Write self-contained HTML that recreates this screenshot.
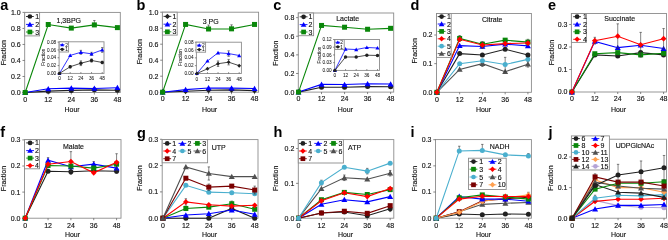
<!DOCTYPE html>
<html><head><meta charset="utf-8"><style>
html,body{margin:0;padding:0;background:#fff;width:668px;height:237px;overflow:hidden}
svg{display:block;font-family:"Liberation Sans", sans-serif;will-change:transform}
</style></head><body>
<svg width="668" height="237" viewBox="0 0 668 237">
<rect width="668" height="237" fill="#fff"/>
<rect x="24.70" y="12.40" width="95.60" height="80.10" fill="none" stroke="#8c8c8c" stroke-width="0.9"/>
<line x1="22.50" y1="92.50" x2="24.70" y2="92.50" stroke="#555" stroke-width="0.7"/>
<text x="20.70" y="94.90" font-size="7" text-anchor="end" fill="#111" stroke="#111" stroke-width="0.14" font-weight="normal" >0.0</text>
<line x1="22.50" y1="76.48" x2="24.70" y2="76.48" stroke="#555" stroke-width="0.7"/>
<text x="20.70" y="78.88" font-size="7" text-anchor="end" fill="#111" stroke="#111" stroke-width="0.14" font-weight="normal" >0.2</text>
<line x1="22.50" y1="60.46" x2="24.70" y2="60.46" stroke="#555" stroke-width="0.7"/>
<text x="20.70" y="62.86" font-size="7" text-anchor="end" fill="#111" stroke="#111" stroke-width="0.14" font-weight="normal" >0.4</text>
<line x1="22.50" y1="44.44" x2="24.70" y2="44.44" stroke="#555" stroke-width="0.7"/>
<text x="20.70" y="46.84" font-size="7" text-anchor="end" fill="#111" stroke="#111" stroke-width="0.14" font-weight="normal" >0.6</text>
<line x1="22.50" y1="28.42" x2="24.70" y2="28.42" stroke="#555" stroke-width="0.7"/>
<text x="20.70" y="30.82" font-size="7" text-anchor="end" fill="#111" stroke="#111" stroke-width="0.14" font-weight="normal" >0.8</text>
<line x1="22.50" y1="12.40" x2="24.70" y2="12.40" stroke="#555" stroke-width="0.7"/>
<text x="20.70" y="14.80" font-size="7" text-anchor="end" fill="#111" stroke="#111" stroke-width="0.14" font-weight="normal" >1.0</text>
<text x="25.20" y="101.70" font-size="7" text-anchor="middle" fill="#111" stroke="#111" stroke-width="0.14" font-weight="normal" >0</text>
<line x1="48.25" y1="92.50" x2="48.25" y2="94.50" stroke="#555" stroke-width="0.7"/>
<text x="48.25" y="101.70" font-size="7" text-anchor="middle" fill="#111" stroke="#111" stroke-width="0.14" font-weight="normal" >12</text>
<line x1="71.30" y1="92.50" x2="71.30" y2="94.50" stroke="#555" stroke-width="0.7"/>
<text x="71.30" y="101.70" font-size="7" text-anchor="middle" fill="#111" stroke="#111" stroke-width="0.14" font-weight="normal" >24</text>
<line x1="94.36" y1="92.50" x2="94.36" y2="94.50" stroke="#555" stroke-width="0.7"/>
<text x="94.36" y="101.70" font-size="7" text-anchor="middle" fill="#111" stroke="#111" stroke-width="0.14" font-weight="normal" >36</text>
<line x1="117.41" y1="92.50" x2="117.41" y2="94.50" stroke="#555" stroke-width="0.7"/>
<text x="117.41" y="101.70" font-size="7" text-anchor="middle" fill="#111" stroke="#111" stroke-width="0.14" font-weight="normal" >48</text>
<text x="72.10" y="111.90" font-size="7" text-anchor="middle" fill="#111" stroke="#111" stroke-width="0.14" font-weight="normal" >Hour</text>
<text x="0" y="0" font-size="7" text-anchor="middle" fill="#111" stroke="#111" stroke-width="0.140" transform="translate(5.50,52.70) rotate(-90)">Fraction</text>
<path d="M25.20 92.50L48.25 91.14L71.30 90.42L94.36 89.86L117.41 90.26" fill="none" stroke="#202020" stroke-width="1.1"/>
<circle cx="25.20" cy="92.50" r="2.50" fill="#202020"/>
<circle cx="48.25" cy="91.14" r="2.50" fill="#202020"/>
<circle cx="71.30" cy="90.42" r="2.50" fill="#202020"/>
<circle cx="94.36" cy="89.86" r="2.50" fill="#202020"/>
<circle cx="117.41" cy="90.26" r="2.50" fill="#202020"/>
<path d="M25.20 92.50L48.25 88.82L71.30 88.17L94.36 88.50L117.41 87.69" fill="none" stroke="#0000ff" stroke-width="1.1"/>
<path d="M25.20 89.62L28.20 94.88L22.20 94.88Z" fill="#0000ff"/>
<path d="M48.25 85.94L51.25 91.19L45.25 91.19Z" fill="#0000ff"/>
<path d="M71.30 85.30L74.30 90.55L68.30 90.55Z" fill="#0000ff"/>
<path d="M94.36 85.62L97.36 90.87L91.36 90.87Z" fill="#0000ff"/>
<path d="M117.41 84.82L120.41 90.07L114.41 90.07Z" fill="#0000ff"/>
<line x1="94.36" y1="24.90" x2="94.36" y2="20.49" stroke="#333" stroke-width="0.6"/>
<line x1="93.16" y1="20.49" x2="95.56" y2="20.49" stroke="#333" stroke-width="0.6"/>
<path d="M25.20 92.50L48.25 24.50L71.30 28.10L94.36 24.90L117.41 27.62" fill="none" stroke="#0a870a" stroke-width="1.1"/>
<rect x="22.70" y="90.00" width="5.00" height="5.00" fill="#0a870a"/>
<rect x="45.75" y="22.00" width="5.00" height="5.00" fill="#0a870a"/>
<rect x="68.80" y="25.60" width="5.00" height="5.00" fill="#0a870a"/>
<rect x="91.86" y="22.40" width="5.00" height="5.00" fill="#0a870a"/>
<rect x="114.91" y="25.12" width="5.00" height="5.00" fill="#0a870a"/>
<rect x="24.70" y="12.40" width="14.90" height="23.50" fill="#fff" stroke="#8c8c8c" stroke-width="0.9"/>
<line x1="26.00" y1="16.50" x2="33.80" y2="16.50" stroke="#202020" stroke-width="0.9"/>
<circle cx="29.90" cy="16.50" r="2.35" fill="#202020"/>
<text x="35.20" y="19.00" font-size="7" text-anchor="start" fill="#111" stroke="#111" stroke-width="0.14" font-weight="normal" >1</text>
<line x1="26.00" y1="24.40" x2="33.80" y2="24.40" stroke="#0000ff" stroke-width="0.9"/>
<path d="M29.90 21.70L32.72 26.63L27.08 26.63Z" fill="#0000ff"/>
<text x="35.20" y="26.90" font-size="7" text-anchor="start" fill="#111" stroke="#111" stroke-width="0.14" font-weight="normal" >2</text>
<line x1="26.00" y1="32.00" x2="33.80" y2="32.00" stroke="#0a870a" stroke-width="0.9"/>
<rect x="27.55" y="29.65" width="4.70" height="4.70" fill="#0a870a"/>
<text x="35.20" y="34.50" font-size="7" text-anchor="start" fill="#111" stroke="#111" stroke-width="0.14" font-weight="normal" >3</text>
<text x="56.50" y="22.90" font-size="7" text-anchor="start" fill="#111" stroke="#111" stroke-width="0.14" font-weight="normal" >1,3BPG</text>
<text x="0.20" y="10.00" font-size="14.5" text-anchor="start" fill="#000" stroke="#000" stroke-width="0" font-weight="bold" >a</text>
<rect x="59.10" y="41.80" width="44.90" height="31.60" fill="none" stroke="#8c8c8c" stroke-width="0.9"/>
<line x1="57.60" y1="73.40" x2="59.10" y2="73.40" stroke="#555" stroke-width="0.7"/>
<text x="56.20" y="75.01" font-size="4.7" text-anchor="end" fill="#111" stroke="#111" stroke-width="0.03266666666666668" font-weight="normal" >0.00</text>
<line x1="57.60" y1="65.58" x2="59.10" y2="65.58" stroke="#555" stroke-width="0.7"/>
<text x="56.20" y="67.19" font-size="4.7" text-anchor="end" fill="#111" stroke="#111" stroke-width="0.03266666666666668" font-weight="normal" >0.02</text>
<line x1="57.60" y1="57.76" x2="59.10" y2="57.76" stroke="#555" stroke-width="0.7"/>
<text x="56.20" y="59.37" font-size="4.7" text-anchor="end" fill="#111" stroke="#111" stroke-width="0.03266666666666668" font-weight="normal" >0.04</text>
<line x1="57.60" y1="49.94" x2="59.10" y2="49.94" stroke="#555" stroke-width="0.7"/>
<text x="56.20" y="51.55" font-size="4.7" text-anchor="end" fill="#111" stroke="#111" stroke-width="0.03266666666666668" font-weight="normal" >0.06</text>
<line x1="57.60" y1="42.12" x2="59.10" y2="42.12" stroke="#555" stroke-width="0.7"/>
<text x="56.20" y="43.73" font-size="4.7" text-anchor="end" fill="#111" stroke="#111" stroke-width="0.03266666666666668" font-weight="normal" >0.08</text>
<text x="59.50" y="80.40" font-size="4.7" text-anchor="middle" fill="#111" stroke="#111" stroke-width="0.03266666666666668" font-weight="normal" >0</text>
<line x1="70.18" y1="73.40" x2="70.18" y2="72.10" stroke="#555" stroke-width="0.7"/>
<text x="70.18" y="80.40" font-size="4.7" text-anchor="middle" fill="#111" stroke="#111" stroke-width="0.03266666666666668" font-weight="normal" >12</text>
<line x1="80.86" y1="73.40" x2="80.86" y2="72.10" stroke="#555" stroke-width="0.7"/>
<text x="80.86" y="80.40" font-size="4.7" text-anchor="middle" fill="#111" stroke="#111" stroke-width="0.03266666666666668" font-weight="normal" >24</text>
<line x1="91.54" y1="73.40" x2="91.54" y2="72.10" stroke="#555" stroke-width="0.7"/>
<text x="91.54" y="80.40" font-size="4.7" text-anchor="middle" fill="#111" stroke="#111" stroke-width="0.03266666666666668" font-weight="normal" >36</text>
<line x1="102.22" y1="73.40" x2="102.22" y2="72.10" stroke="#555" stroke-width="0.7"/>
<text x="102.22" y="80.40" font-size="4.7" text-anchor="middle" fill="#111" stroke="#111" stroke-width="0.03266666666666668" font-weight="normal" >48</text>
<text x="0" y="0" font-size="4.7" text-anchor="middle" fill="#111" stroke="#111" stroke-width="0.033" transform="translate(45.00,57.20) rotate(-90)">Fraction</text>
<line x1="80.86" y1="54.24" x2="80.86" y2="50.33" stroke="#333" stroke-width="0.6"/>
<line x1="79.66" y1="50.33" x2="82.06" y2="50.33" stroke="#333" stroke-width="0.6"/>
<line x1="79.66" y1="54.24" x2="82.06" y2="54.24" stroke="#333" stroke-width="0.6"/>
<line x1="91.54" y1="55.41" x2="91.54" y2="52.29" stroke="#333" stroke-width="0.6"/>
<line x1="90.34" y1="52.29" x2="92.74" y2="52.29" stroke="#333" stroke-width="0.6"/>
<line x1="90.34" y1="55.41" x2="92.74" y2="55.41" stroke="#333" stroke-width="0.6"/>
<line x1="102.22" y1="52.29" x2="102.22" y2="47.59" stroke="#333" stroke-width="0.6"/>
<line x1="101.02" y1="47.59" x2="103.42" y2="47.59" stroke="#333" stroke-width="0.6"/>
<line x1="101.02" y1="52.29" x2="103.42" y2="52.29" stroke="#333" stroke-width="0.6"/>
<path d="M59.50 73.40L70.18 55.41L80.86 52.29L91.54 53.85L102.22 49.94" fill="none" stroke="#0000ff" stroke-width="0.8"/>
<path d="M59.50 71.45L61.54 75.02L57.46 75.02Z" fill="#0000ff"/>
<path d="M70.18 53.46L72.22 57.03L68.14 57.03Z" fill="#0000ff"/>
<path d="M80.86 50.33L82.90 53.90L78.82 53.90Z" fill="#0000ff"/>
<path d="M91.54 51.90L93.58 55.47L89.50 55.47Z" fill="#0000ff"/>
<path d="M102.22 47.99L104.26 51.56L100.18 51.56Z" fill="#0000ff"/>
<line x1="70.18" y1="67.93" x2="70.18" y2="65.58" stroke="#333" stroke-width="0.6"/>
<line x1="68.98" y1="65.58" x2="71.38" y2="65.58" stroke="#333" stroke-width="0.6"/>
<line x1="68.98" y1="67.93" x2="71.38" y2="67.93" stroke="#333" stroke-width="0.6"/>
<line x1="80.86" y1="65.58" x2="80.86" y2="60.89" stroke="#333" stroke-width="0.6"/>
<line x1="79.66" y1="60.89" x2="82.06" y2="60.89" stroke="#333" stroke-width="0.6"/>
<line x1="79.66" y1="65.58" x2="82.06" y2="65.58" stroke="#333" stroke-width="0.6"/>
<line x1="91.54" y1="62.06" x2="91.54" y2="58.93" stroke="#333" stroke-width="0.6"/>
<line x1="90.34" y1="58.93" x2="92.74" y2="58.93" stroke="#333" stroke-width="0.6"/>
<line x1="90.34" y1="62.06" x2="92.74" y2="62.06" stroke="#333" stroke-width="0.6"/>
<line x1="102.22" y1="63.63" x2="102.22" y2="61.28" stroke="#333" stroke-width="0.6"/>
<line x1="101.02" y1="61.28" x2="103.42" y2="61.28" stroke="#333" stroke-width="0.6"/>
<line x1="101.02" y1="63.63" x2="103.42" y2="63.63" stroke="#333" stroke-width="0.6"/>
<path d="M59.50 73.40L70.18 66.75L80.86 63.23L91.54 60.50L102.22 62.45" fill="none" stroke="#202020" stroke-width="0.8"/>
<circle cx="59.50" cy="73.40" r="1.70" fill="#202020"/>
<circle cx="70.18" cy="66.75" r="1.70" fill="#202020"/>
<circle cx="80.86" cy="63.23" r="1.70" fill="#202020"/>
<circle cx="91.54" cy="60.50" r="1.70" fill="#202020"/>
<circle cx="102.22" cy="62.45" r="1.70" fill="#202020"/>
<rect x="59.20" y="41.80" width="9.40" height="10.20" fill="#fff" stroke="#8c8c8c" stroke-width="0.9"/>
<line x1="59.90" y1="44.80" x2="64.50" y2="44.80" stroke="#0000ff" stroke-width="0.9"/>
<path d="M62.20 42.96L64.12 46.32L60.28 46.32Z" fill="#0000ff"/>
<text x="65.20" y="46.55" font-size="4.9" text-anchor="start" fill="#111" stroke="#111" stroke-width="0.042000000000000016" font-weight="normal" >2</text>
<line x1="59.90" y1="49.30" x2="64.50" y2="49.30" stroke="#202020" stroke-width="0.9"/>
<circle cx="62.20" cy="49.30" r="1.60" fill="#202020"/>
<text x="65.20" y="51.05" font-size="4.9" text-anchor="start" fill="#111" stroke="#111" stroke-width="0.042000000000000016" font-weight="normal" >1</text>
<rect x="162.40" y="12.20" width="96.20" height="80.00" fill="none" stroke="#8c8c8c" stroke-width="0.9"/>
<line x1="160.20" y1="92.20" x2="162.40" y2="92.20" stroke="#555" stroke-width="0.7"/>
<text x="158.40" y="94.60" font-size="7" text-anchor="end" fill="#111" stroke="#111" stroke-width="0.14" font-weight="normal" >0.0</text>
<line x1="160.20" y1="76.20" x2="162.40" y2="76.20" stroke="#555" stroke-width="0.7"/>
<text x="158.40" y="78.60" font-size="7" text-anchor="end" fill="#111" stroke="#111" stroke-width="0.14" font-weight="normal" >0.2</text>
<line x1="160.20" y1="60.20" x2="162.40" y2="60.20" stroke="#555" stroke-width="0.7"/>
<text x="158.40" y="62.60" font-size="7" text-anchor="end" fill="#111" stroke="#111" stroke-width="0.14" font-weight="normal" >0.4</text>
<line x1="160.20" y1="44.20" x2="162.40" y2="44.20" stroke="#555" stroke-width="0.7"/>
<text x="158.40" y="46.60" font-size="7" text-anchor="end" fill="#111" stroke="#111" stroke-width="0.14" font-weight="normal" >0.6</text>
<line x1="160.20" y1="28.20" x2="162.40" y2="28.20" stroke="#555" stroke-width="0.7"/>
<text x="158.40" y="30.60" font-size="7" text-anchor="end" fill="#111" stroke="#111" stroke-width="0.14" font-weight="normal" >0.8</text>
<line x1="160.20" y1="12.20" x2="162.40" y2="12.20" stroke="#555" stroke-width="0.7"/>
<text x="158.40" y="14.60" font-size="7" text-anchor="end" fill="#111" stroke="#111" stroke-width="0.14" font-weight="normal" >1.0</text>
<text x="162.60" y="101.40" font-size="7" text-anchor="middle" fill="#111" stroke="#111" stroke-width="0.14" font-weight="normal" >0</text>
<line x1="185.58" y1="92.20" x2="185.58" y2="94.20" stroke="#555" stroke-width="0.7"/>
<text x="185.58" y="101.40" font-size="7" text-anchor="middle" fill="#111" stroke="#111" stroke-width="0.14" font-weight="normal" >12</text>
<line x1="208.56" y1="92.20" x2="208.56" y2="94.20" stroke="#555" stroke-width="0.7"/>
<text x="208.56" y="101.40" font-size="7" text-anchor="middle" fill="#111" stroke="#111" stroke-width="0.14" font-weight="normal" >24</text>
<line x1="231.54" y1="92.20" x2="231.54" y2="94.20" stroke="#555" stroke-width="0.7"/>
<text x="231.54" y="101.40" font-size="7" text-anchor="middle" fill="#111" stroke="#111" stroke-width="0.14" font-weight="normal" >36</text>
<line x1="254.52" y1="92.20" x2="254.52" y2="94.20" stroke="#555" stroke-width="0.7"/>
<text x="254.52" y="101.40" font-size="7" text-anchor="middle" fill="#111" stroke="#111" stroke-width="0.14" font-weight="normal" >48</text>
<text x="209.60" y="111.90" font-size="7" text-anchor="middle" fill="#111" stroke="#111" stroke-width="0.14" font-weight="normal" >Hour</text>
<text x="0" y="0" font-size="7" text-anchor="middle" fill="#111" stroke="#111" stroke-width="0.140" transform="translate(142.30,51.70) rotate(-90)">Fraction</text>
<path d="M162.60 92.20L185.58 91.24L208.56 90.20L231.54 89.88L254.52 90.60" fill="none" stroke="#202020" stroke-width="1.1"/>
<path d="M162.60 89.33L165.47 92.20L162.60 95.08L159.72 92.20Z" fill="#202020"/>
<path d="M185.58 88.37L188.45 91.24L185.58 94.12L182.70 91.24Z" fill="#202020"/>
<path d="M208.56 87.33L211.44 90.20L208.56 93.08L205.69 90.20Z" fill="#202020"/>
<path d="M231.54 87.00L234.41 89.88L231.54 92.75L228.66 89.88Z" fill="#202020"/>
<path d="M254.52 87.73L257.39 90.60L254.52 93.48L251.64 90.60Z" fill="#202020"/>
<path d="M162.60 92.20L185.58 89.64L208.56 87.96L231.54 88.12L254.52 88.52" fill="none" stroke="#0000ff" stroke-width="1.1"/>
<path d="M162.60 89.33L165.60 94.58L159.60 94.58Z" fill="#0000ff"/>
<path d="M185.58 86.77L188.58 92.02L182.58 92.02Z" fill="#0000ff"/>
<path d="M208.56 85.09L211.56 90.34L205.56 90.34Z" fill="#0000ff"/>
<path d="M231.54 85.25L234.54 90.50L228.54 90.50Z" fill="#0000ff"/>
<path d="M254.52 85.65L257.52 90.90L251.52 90.90Z" fill="#0000ff"/>
<line x1="208.56" y1="29.00" x2="208.56" y2="25.00" stroke="#333" stroke-width="0.6"/>
<line x1="207.36" y1="25.00" x2="209.76" y2="25.00" stroke="#333" stroke-width="0.6"/>
<line x1="231.54" y1="28.84" x2="231.54" y2="24.84" stroke="#333" stroke-width="0.6"/>
<line x1="230.34" y1="24.84" x2="232.74" y2="24.84" stroke="#333" stroke-width="0.6"/>
<path d="M162.60 92.20L185.58 24.44L208.56 29.00L231.54 28.84L254.52 24.44" fill="none" stroke="#0a870a" stroke-width="1.1"/>
<rect x="160.10" y="89.70" width="5.00" height="5.00" fill="#0a870a"/>
<rect x="183.08" y="21.94" width="5.00" height="5.00" fill="#0a870a"/>
<rect x="206.06" y="26.50" width="5.00" height="5.00" fill="#0a870a"/>
<rect x="229.04" y="26.34" width="5.00" height="5.00" fill="#0a870a"/>
<rect x="252.02" y="21.94" width="5.00" height="5.00" fill="#0a870a"/>
<rect x="162.40" y="12.20" width="14.80" height="22.90" fill="#fff" stroke="#8c8c8c" stroke-width="0.9"/>
<line x1="163.50" y1="16.40" x2="171.30" y2="16.40" stroke="#202020" stroke-width="0.9"/>
<path d="M167.40 13.70L170.10 16.40L167.40 19.10L164.70 16.40Z" fill="#202020"/>
<text x="172.60" y="18.90" font-size="7" text-anchor="start" fill="#111" stroke="#111" stroke-width="0.14" font-weight="normal" >1</text>
<line x1="163.50" y1="24.20" x2="171.30" y2="24.20" stroke="#0000ff" stroke-width="0.9"/>
<path d="M167.40 21.50L170.22 26.43L164.58 26.43Z" fill="#0000ff"/>
<text x="172.60" y="26.70" font-size="7" text-anchor="start" fill="#111" stroke="#111" stroke-width="0.14" font-weight="normal" >2</text>
<line x1="163.50" y1="31.80" x2="171.30" y2="31.80" stroke="#0a870a" stroke-width="0.9"/>
<rect x="165.05" y="29.45" width="4.70" height="4.70" fill="#0a870a"/>
<text x="172.60" y="34.30" font-size="7" text-anchor="start" fill="#111" stroke="#111" stroke-width="0.14" font-weight="normal" >3</text>
<text x="202.70" y="23.50" font-size="7" text-anchor="start" fill="#111" stroke="#111" stroke-width="0.14" font-weight="normal" >3 PG</text>
<text x="136.50" y="10.00" font-size="14.5" text-anchor="start" fill="#000" stroke="#000" stroke-width="0" font-weight="bold" >b</text>
<rect x="196.40" y="42.20" width="45.00" height="31.30" fill="none" stroke="#8c8c8c" stroke-width="0.9"/>
<line x1="194.90" y1="73.50" x2="196.40" y2="73.50" stroke="#555" stroke-width="0.7"/>
<text x="193.50" y="75.11" font-size="4.7" text-anchor="end" fill="#111" stroke="#111" stroke-width="0.03266666666666668" font-weight="normal" >0.00</text>
<line x1="194.90" y1="65.68" x2="196.40" y2="65.68" stroke="#555" stroke-width="0.7"/>
<text x="193.50" y="67.29" font-size="4.7" text-anchor="end" fill="#111" stroke="#111" stroke-width="0.03266666666666668" font-weight="normal" >0.02</text>
<line x1="194.90" y1="57.86" x2="196.40" y2="57.86" stroke="#555" stroke-width="0.7"/>
<text x="193.50" y="59.47" font-size="4.7" text-anchor="end" fill="#111" stroke="#111" stroke-width="0.03266666666666668" font-weight="normal" >0.04</text>
<line x1="194.90" y1="50.04" x2="196.40" y2="50.04" stroke="#555" stroke-width="0.7"/>
<text x="193.50" y="51.65" font-size="4.7" text-anchor="end" fill="#111" stroke="#111" stroke-width="0.03266666666666668" font-weight="normal" >0.06</text>
<line x1="194.90" y1="42.22" x2="196.40" y2="42.22" stroke="#555" stroke-width="0.7"/>
<text x="193.50" y="43.83" font-size="4.7" text-anchor="end" fill="#111" stroke="#111" stroke-width="0.03266666666666668" font-weight="normal" >0.08</text>
<text x="196.90" y="80.50" font-size="4.7" text-anchor="middle" fill="#111" stroke="#111" stroke-width="0.03266666666666668" font-weight="normal" >0</text>
<line x1="207.47" y1="73.50" x2="207.47" y2="72.20" stroke="#555" stroke-width="0.7"/>
<text x="207.47" y="80.50" font-size="4.7" text-anchor="middle" fill="#111" stroke="#111" stroke-width="0.03266666666666668" font-weight="normal" >12</text>
<line x1="218.04" y1="73.50" x2="218.04" y2="72.20" stroke="#555" stroke-width="0.7"/>
<text x="218.04" y="80.50" font-size="4.7" text-anchor="middle" fill="#111" stroke="#111" stroke-width="0.03266666666666668" font-weight="normal" >24</text>
<line x1="228.62" y1="73.50" x2="228.62" y2="72.20" stroke="#555" stroke-width="0.7"/>
<text x="228.62" y="80.50" font-size="4.7" text-anchor="middle" fill="#111" stroke="#111" stroke-width="0.03266666666666668" font-weight="normal" >36</text>
<line x1="239.19" y1="73.50" x2="239.19" y2="72.20" stroke="#555" stroke-width="0.7"/>
<text x="239.19" y="80.50" font-size="4.7" text-anchor="middle" fill="#111" stroke="#111" stroke-width="0.03266666666666668" font-weight="normal" >48</text>
<text x="0" y="0" font-size="4.7" text-anchor="middle" fill="#111" stroke="#111" stroke-width="0.033" transform="translate(182.00,57.50) rotate(-90)">Fraction</text>
<line x1="228.62" y1="56.30" x2="228.62" y2="50.82" stroke="#333" stroke-width="0.6"/>
<line x1="227.42" y1="50.82" x2="229.82" y2="50.82" stroke="#333" stroke-width="0.6"/>
<line x1="227.42" y1="56.30" x2="229.82" y2="56.30" stroke="#333" stroke-width="0.6"/>
<path d="M196.90 73.50L207.47 60.99L218.04 52.78L228.62 53.56L239.19 55.51" fill="none" stroke="#0000ff" stroke-width="0.8"/>
<path d="M196.90 71.55L198.94 75.11L194.86 75.11Z" fill="#0000ff"/>
<path d="M207.47 59.03L209.51 62.60L205.43 62.60Z" fill="#0000ff"/>
<path d="M218.04 50.82L220.08 54.39L216.00 54.39Z" fill="#0000ff"/>
<path d="M228.62 51.60L230.66 55.17L226.58 55.17Z" fill="#0000ff"/>
<path d="M239.19 53.56L241.23 57.13L237.15 57.13Z" fill="#0000ff"/>
<line x1="218.04" y1="66.46" x2="218.04" y2="60.99" stroke="#333" stroke-width="0.6"/>
<line x1="216.84" y1="60.99" x2="219.24" y2="60.99" stroke="#333" stroke-width="0.6"/>
<line x1="216.84" y1="66.46" x2="219.24" y2="66.46" stroke="#333" stroke-width="0.6"/>
<line x1="228.62" y1="64.90" x2="228.62" y2="59.42" stroke="#333" stroke-width="0.6"/>
<line x1="227.42" y1="59.42" x2="229.82" y2="59.42" stroke="#333" stroke-width="0.6"/>
<line x1="227.42" y1="64.90" x2="229.82" y2="64.90" stroke="#333" stroke-width="0.6"/>
<path d="M196.90 73.50L207.47 68.81L218.04 63.73L228.62 62.16L239.19 65.68" fill="none" stroke="#202020" stroke-width="0.8"/>
<path d="M196.90 71.55L198.86 73.50L196.90 75.45L194.94 73.50Z" fill="#202020"/>
<path d="M207.47 66.85L209.43 68.81L207.47 70.76L205.52 68.81Z" fill="#202020"/>
<path d="M218.04 61.77L220.00 63.73L218.04 65.68L216.09 63.73Z" fill="#202020"/>
<path d="M228.62 60.21L230.57 62.16L228.62 64.12L226.66 62.16Z" fill="#202020"/>
<path d="M239.19 63.73L241.14 65.68L239.19 67.64L237.23 65.68Z" fill="#202020"/>
<rect x="196.00" y="42.20" width="9.60" height="10.00" fill="#fff" stroke="#8c8c8c" stroke-width="0.9"/>
<line x1="196.90" y1="45.20" x2="201.50" y2="45.20" stroke="#0000ff" stroke-width="0.9"/>
<path d="M199.20 43.36L201.12 46.72L197.28 46.72Z" fill="#0000ff"/>
<text x="202.00" y="46.95" font-size="4.9" text-anchor="start" fill="#111" stroke="#111" stroke-width="0.042000000000000016" font-weight="normal" >2</text>
<line x1="196.90" y1="49.60" x2="201.50" y2="49.60" stroke="#202020" stroke-width="0.9"/>
<path d="M199.20 47.76L201.04 49.60L199.20 51.44L197.36 49.60Z" fill="#202020"/>
<text x="202.00" y="51.35" font-size="4.9" text-anchor="start" fill="#111" stroke="#111" stroke-width="0.042000000000000016" font-weight="normal" >1</text>
<rect x="298.30" y="13.00" width="95.40" height="79.10" fill="none" stroke="#8c8c8c" stroke-width="0.9"/>
<line x1="296.10" y1="92.10" x2="298.30" y2="92.10" stroke="#555" stroke-width="0.7"/>
<text x="294.30" y="94.50" font-size="7" text-anchor="end" fill="#111" stroke="#111" stroke-width="0.14" font-weight="normal" >0.0</text>
<line x1="296.10" y1="73.48" x2="298.30" y2="73.48" stroke="#555" stroke-width="0.7"/>
<text x="294.30" y="75.88" font-size="7" text-anchor="end" fill="#111" stroke="#111" stroke-width="0.14" font-weight="normal" >0.2</text>
<line x1="296.10" y1="54.86" x2="298.30" y2="54.86" stroke="#555" stroke-width="0.7"/>
<text x="294.30" y="57.26" font-size="7" text-anchor="end" fill="#111" stroke="#111" stroke-width="0.14" font-weight="normal" >0.4</text>
<line x1="296.10" y1="36.24" x2="298.30" y2="36.24" stroke="#555" stroke-width="0.7"/>
<text x="294.30" y="38.64" font-size="7" text-anchor="end" fill="#111" stroke="#111" stroke-width="0.14" font-weight="normal" >0.6</text>
<line x1="296.10" y1="17.62" x2="298.30" y2="17.62" stroke="#555" stroke-width="0.7"/>
<text x="294.30" y="20.02" font-size="7" text-anchor="end" fill="#111" stroke="#111" stroke-width="0.14" font-weight="normal" >0.8</text>
<text x="298.50" y="101.30" font-size="7" text-anchor="middle" fill="#111" stroke="#111" stroke-width="0.14" font-weight="normal" >0</text>
<line x1="321.53" y1="92.10" x2="321.53" y2="94.10" stroke="#555" stroke-width="0.7"/>
<text x="321.53" y="101.30" font-size="7" text-anchor="middle" fill="#111" stroke="#111" stroke-width="0.14" font-weight="normal" >12</text>
<line x1="344.56" y1="92.10" x2="344.56" y2="94.10" stroke="#555" stroke-width="0.7"/>
<text x="344.56" y="101.30" font-size="7" text-anchor="middle" fill="#111" stroke="#111" stroke-width="0.14" font-weight="normal" >24</text>
<line x1="367.58" y1="92.10" x2="367.58" y2="94.10" stroke="#555" stroke-width="0.7"/>
<text x="367.58" y="101.30" font-size="7" text-anchor="middle" fill="#111" stroke="#111" stroke-width="0.14" font-weight="normal" >36</text>
<line x1="390.61" y1="92.10" x2="390.61" y2="94.10" stroke="#555" stroke-width="0.7"/>
<text x="390.61" y="101.30" font-size="7" text-anchor="middle" fill="#111" stroke="#111" stroke-width="0.14" font-weight="normal" >48</text>
<text x="345.40" y="111.90" font-size="7" text-anchor="middle" fill="#111" stroke="#111" stroke-width="0.14" font-weight="normal" >Hour</text>
<text x="0" y="0" font-size="7" text-anchor="middle" fill="#111" stroke="#111" stroke-width="0.140" transform="translate(277.80,53.20) rotate(-90)">Fraction</text>
<path d="M298.50 92.10L321.53 87.26L344.56 87.26L367.58 86.61L390.61 86.70" fill="none" stroke="#202020" stroke-width="1.1"/>
<circle cx="298.50" cy="92.10" r="2.50" fill="#202020"/>
<circle cx="321.53" cy="87.26" r="2.50" fill="#202020"/>
<circle cx="344.56" cy="87.26" r="2.50" fill="#202020"/>
<circle cx="367.58" cy="86.61" r="2.50" fill="#202020"/>
<circle cx="390.61" cy="86.70" r="2.50" fill="#202020"/>
<path d="M298.50 92.10L321.53 84.37L344.56 84.56L367.58 83.81L390.61 84.00" fill="none" stroke="#0000ff" stroke-width="1.1"/>
<path d="M298.50 89.22L301.50 94.47L295.50 94.47Z" fill="#0000ff"/>
<path d="M321.53 81.50L324.53 86.75L318.53 86.75Z" fill="#0000ff"/>
<path d="M344.56 81.68L347.56 86.93L341.56 86.93Z" fill="#0000ff"/>
<path d="M367.58 80.94L370.58 86.19L364.58 86.19Z" fill="#0000ff"/>
<path d="M390.61 81.13L393.61 86.38L387.61 86.38Z" fill="#0000ff"/>
<path d="M298.50 92.10L321.53 25.44L344.56 27.21L367.58 29.26L390.61 28.33" fill="none" stroke="#0a870a" stroke-width="1.1"/>
<rect x="296.00" y="89.60" width="5.00" height="5.00" fill="#0a870a"/>
<rect x="319.03" y="22.94" width="5.00" height="5.00" fill="#0a870a"/>
<rect x="342.06" y="24.71" width="5.00" height="5.00" fill="#0a870a"/>
<rect x="365.08" y="26.76" width="5.00" height="5.00" fill="#0a870a"/>
<rect x="388.11" y="25.83" width="5.00" height="5.00" fill="#0a870a"/>
<rect x="298.30" y="13.00" width="15.30" height="22.70" fill="#fff" stroke="#8c8c8c" stroke-width="0.9"/>
<line x1="299.70" y1="16.80" x2="307.50" y2="16.80" stroke="#202020" stroke-width="0.9"/>
<circle cx="303.60" cy="16.80" r="2.35" fill="#202020"/>
<text x="308.60" y="19.30" font-size="7" text-anchor="start" fill="#111" stroke="#111" stroke-width="0.14" font-weight="normal" >1</text>
<line x1="299.70" y1="24.60" x2="307.50" y2="24.60" stroke="#0000ff" stroke-width="0.9"/>
<path d="M303.60 21.90L306.42 26.83L300.78 26.83Z" fill="#0000ff"/>
<text x="308.60" y="27.10" font-size="7" text-anchor="start" fill="#111" stroke="#111" stroke-width="0.14" font-weight="normal" >2</text>
<line x1="299.70" y1="32.00" x2="307.50" y2="32.00" stroke="#0a870a" stroke-width="0.9"/>
<rect x="301.25" y="29.65" width="4.70" height="4.70" fill="#0a870a"/>
<text x="308.60" y="34.50" font-size="7" text-anchor="start" fill="#111" stroke="#111" stroke-width="0.14" font-weight="normal" >3</text>
<text x="336.20" y="20.80" font-size="7" text-anchor="start" fill="#111" stroke="#111" stroke-width="0.14" font-weight="normal" >Lactate</text>
<text x="273.30" y="10.00" font-size="14.5" text-anchor="start" fill="#000" stroke="#000" stroke-width="0" font-weight="bold" >c</text>
<rect x="334.60" y="39.50" width="44.90" height="30.90" fill="none" stroke="#8c8c8c" stroke-width="0.9"/>
<line x1="333.10" y1="70.40" x2="334.60" y2="70.40" stroke="#555" stroke-width="0.7"/>
<text x="331.70" y="72.01" font-size="4.7" text-anchor="end" fill="#111" stroke="#111" stroke-width="0.03266666666666668" font-weight="normal" >0.00</text>
<line x1="333.10" y1="62.68" x2="334.60" y2="62.68" stroke="#555" stroke-width="0.7"/>
<text x="331.70" y="64.29" font-size="4.7" text-anchor="end" fill="#111" stroke="#111" stroke-width="0.03266666666666668" font-weight="normal" >0.03</text>
<line x1="333.10" y1="54.95" x2="334.60" y2="54.95" stroke="#555" stroke-width="0.7"/>
<text x="331.70" y="56.56" font-size="4.7" text-anchor="end" fill="#111" stroke="#111" stroke-width="0.03266666666666668" font-weight="normal" >0.06</text>
<line x1="333.10" y1="47.23" x2="334.60" y2="47.23" stroke="#555" stroke-width="0.7"/>
<text x="331.70" y="48.84" font-size="4.7" text-anchor="end" fill="#111" stroke="#111" stroke-width="0.03266666666666668" font-weight="normal" >0.09</text>
<line x1="333.10" y1="39.50" x2="334.60" y2="39.50" stroke="#555" stroke-width="0.7"/>
<text x="331.70" y="41.11" font-size="4.7" text-anchor="end" fill="#111" stroke="#111" stroke-width="0.03266666666666668" font-weight="normal" >0.12</text>
<text x="334.90" y="77.40" font-size="4.7" text-anchor="middle" fill="#111" stroke="#111" stroke-width="0.03266666666666668" font-weight="normal" >0</text>
<line x1="345.55" y1="70.40" x2="345.55" y2="69.10" stroke="#555" stroke-width="0.7"/>
<text x="345.55" y="77.40" font-size="4.7" text-anchor="middle" fill="#111" stroke="#111" stroke-width="0.03266666666666668" font-weight="normal" >12</text>
<line x1="356.20" y1="70.40" x2="356.20" y2="69.10" stroke="#555" stroke-width="0.7"/>
<text x="356.20" y="77.40" font-size="4.7" text-anchor="middle" fill="#111" stroke="#111" stroke-width="0.03266666666666668" font-weight="normal" >24</text>
<line x1="366.85" y1="70.40" x2="366.85" y2="69.10" stroke="#555" stroke-width="0.7"/>
<text x="366.85" y="77.40" font-size="4.7" text-anchor="middle" fill="#111" stroke="#111" stroke-width="0.03266666666666668" font-weight="normal" >36</text>
<line x1="377.50" y1="70.40" x2="377.50" y2="69.10" stroke="#555" stroke-width="0.7"/>
<text x="377.50" y="77.40" font-size="4.7" text-anchor="middle" fill="#111" stroke="#111" stroke-width="0.03266666666666668" font-weight="normal" >48</text>
<text x="0" y="0" font-size="4.7" text-anchor="middle" fill="#111" stroke="#111" stroke-width="0.033" transform="translate(320.80,55.00) rotate(-90)">Fraction</text>
<path d="M334.90 70.40L345.55 49.03L356.20 49.54L366.85 47.48L377.50 48.00" fill="none" stroke="#0000ff" stroke-width="0.8"/>
<path d="M334.90 68.45L336.94 72.02L332.86 72.02Z" fill="#0000ff"/>
<path d="M345.55 47.07L347.59 50.64L343.51 50.64Z" fill="#0000ff"/>
<path d="M356.20 47.59L358.24 51.16L354.16 51.16Z" fill="#0000ff"/>
<path d="M366.85 45.53L368.89 49.10L364.81 49.10Z" fill="#0000ff"/>
<path d="M377.50 46.04L379.54 49.61L375.46 49.61Z" fill="#0000ff"/>
<path d="M334.90 70.40L345.55 57.01L356.20 57.01L366.85 55.21L377.50 55.47" fill="none" stroke="#202020" stroke-width="0.8"/>
<circle cx="334.90" cy="70.40" r="1.70" fill="#202020"/>
<circle cx="345.55" cy="57.01" r="1.70" fill="#202020"/>
<circle cx="356.20" cy="57.01" r="1.70" fill="#202020"/>
<circle cx="366.85" cy="55.21" r="1.70" fill="#202020"/>
<circle cx="377.50" cy="55.47" r="1.70" fill="#202020"/>
<rect x="334.90" y="39.50" width="9.30" height="10.00" fill="#fff" stroke="#8c8c8c" stroke-width="0.9"/>
<line x1="335.50" y1="42.30" x2="340.10" y2="42.30" stroke="#0000ff" stroke-width="0.9"/>
<path d="M337.80 40.46L339.72 43.82L335.88 43.82Z" fill="#0000ff"/>
<text x="340.20" y="44.05" font-size="4.9" text-anchor="start" fill="#111" stroke="#111" stroke-width="0.042000000000000016" font-weight="normal" >2</text>
<line x1="335.50" y1="46.80" x2="340.10" y2="46.80" stroke="#202020" stroke-width="0.9"/>
<circle cx="337.80" cy="46.80" r="1.60" fill="#202020"/>
<text x="340.20" y="48.55" font-size="4.9" text-anchor="start" fill="#111" stroke="#111" stroke-width="0.042000000000000016" font-weight="normal" >1</text>
<rect x="436.50" y="13.50" width="94.90" height="78.80" fill="none" stroke="#8c8c8c" stroke-width="0.9"/>
<line x1="434.30" y1="92.30" x2="436.50" y2="92.30" stroke="#555" stroke-width="0.7"/>
<text x="432.50" y="94.70" font-size="7" text-anchor="end" fill="#111" stroke="#111" stroke-width="0.14" font-weight="normal" >0.0</text>
<line x1="434.30" y1="63.65" x2="436.50" y2="63.65" stroke="#555" stroke-width="0.7"/>
<text x="432.50" y="66.05" font-size="7" text-anchor="end" fill="#111" stroke="#111" stroke-width="0.14" font-weight="normal" >0.1</text>
<line x1="434.30" y1="35.00" x2="436.50" y2="35.00" stroke="#555" stroke-width="0.7"/>
<text x="432.50" y="37.40" font-size="7" text-anchor="end" fill="#111" stroke="#111" stroke-width="0.14" font-weight="normal" >0.2</text>
<text x="436.90" y="101.50" font-size="7" text-anchor="middle" fill="#111" stroke="#111" stroke-width="0.14" font-weight="normal" >0</text>
<line x1="459.65" y1="92.30" x2="459.65" y2="94.30" stroke="#555" stroke-width="0.7"/>
<text x="459.65" y="101.50" font-size="7" text-anchor="middle" fill="#111" stroke="#111" stroke-width="0.14" font-weight="normal" >12</text>
<line x1="482.40" y1="92.30" x2="482.40" y2="94.30" stroke="#555" stroke-width="0.7"/>
<text x="482.40" y="101.50" font-size="7" text-anchor="middle" fill="#111" stroke="#111" stroke-width="0.14" font-weight="normal" >24</text>
<line x1="505.16" y1="92.30" x2="505.16" y2="94.30" stroke="#555" stroke-width="0.7"/>
<text x="505.16" y="101.50" font-size="7" text-anchor="middle" fill="#111" stroke="#111" stroke-width="0.14" font-weight="normal" >36</text>
<line x1="527.91" y1="92.30" x2="527.91" y2="94.30" stroke="#555" stroke-width="0.7"/>
<text x="527.91" y="101.50" font-size="7" text-anchor="middle" fill="#111" stroke="#111" stroke-width="0.14" font-weight="normal" >48</text>
<text x="483.50" y="111.90" font-size="7" text-anchor="middle" fill="#111" stroke="#111" stroke-width="0.14" font-weight="normal" >Hour</text>
<text x="0" y="0" font-size="7" text-anchor="middle" fill="#111" stroke="#111" stroke-width="0.140" transform="translate(416.60,50.80) rotate(-90)">Fraction</text>
<line x1="482.40" y1="66.51" x2="482.40" y2="60.78" stroke="#333" stroke-width="0.6"/>
<line x1="481.20" y1="60.78" x2="483.60" y2="60.78" stroke="#333" stroke-width="0.6"/>
<line x1="481.20" y1="66.51" x2="483.60" y2="66.51" stroke="#333" stroke-width="0.6"/>
<line x1="527.91" y1="67.09" x2="527.91" y2="61.36" stroke="#333" stroke-width="0.6"/>
<line x1="526.71" y1="61.36" x2="529.11" y2="61.36" stroke="#333" stroke-width="0.6"/>
<line x1="526.71" y1="67.09" x2="529.11" y2="67.09" stroke="#333" stroke-width="0.6"/>
<path d="M436.90 92.30L459.65 69.38L482.40 63.65L505.16 71.67L527.91 64.22" fill="none" stroke="#505050" stroke-width="1.1"/>
<path d="M436.90 89.42L439.90 94.67L433.90 94.67Z" fill="#505050"/>
<path d="M459.65 66.50L462.65 71.75L456.65 71.75Z" fill="#505050"/>
<path d="M482.40 60.77L485.40 66.02L479.40 66.02Z" fill="#505050"/>
<path d="M505.16 68.80L508.16 74.05L502.16 74.05Z" fill="#505050"/>
<path d="M527.91 61.35L530.91 66.60L524.91 66.60Z" fill="#505050"/>
<line x1="505.16" y1="71.67" x2="505.16" y2="57.35" stroke="#333" stroke-width="0.6"/>
<line x1="503.96" y1="57.35" x2="506.36" y2="57.35" stroke="#333" stroke-width="0.6"/>
<line x1="503.96" y1="71.67" x2="506.36" y2="71.67" stroke="#333" stroke-width="0.6"/>
<path d="M436.90 92.30L459.65 63.65L482.40 60.78L505.16 64.51L527.91 59.35" fill="none" stroke="#4aafce" stroke-width="1.1"/>
<circle cx="436.90" cy="92.30" r="2.50" fill="#4aafce"/>
<circle cx="459.65" cy="63.65" r="2.50" fill="#4aafce"/>
<circle cx="482.40" cy="60.78" r="2.50" fill="#4aafce"/>
<circle cx="505.16" cy="64.51" r="2.50" fill="#4aafce"/>
<circle cx="527.91" cy="59.35" r="2.50" fill="#4aafce"/>
<path d="M436.90 92.30L459.65 53.62L482.40 55.05L505.16 49.32L527.91 55.05" fill="none" stroke="#202020" stroke-width="1.1"/>
<circle cx="436.90" cy="92.30" r="2.50" fill="#202020"/>
<circle cx="459.65" cy="53.62" r="2.50" fill="#202020"/>
<circle cx="482.40" cy="55.05" r="2.50" fill="#202020"/>
<circle cx="505.16" cy="49.32" r="2.50" fill="#202020"/>
<circle cx="527.91" cy="55.05" r="2.50" fill="#202020"/>
<path d="M436.90 92.30L459.65 45.60L482.40 46.46L505.16 44.17L527.91 45.89" fill="none" stroke="#0000ff" stroke-width="1.1"/>
<path d="M436.90 89.42L439.90 94.67L433.90 94.67Z" fill="#0000ff"/>
<path d="M459.65 42.73L462.65 47.98L456.65 47.98Z" fill="#0000ff"/>
<path d="M482.40 43.58L485.40 48.83L479.40 48.83Z" fill="#0000ff"/>
<path d="M505.16 41.29L508.16 46.54L502.16 46.54Z" fill="#0000ff"/>
<path d="M527.91 43.01L530.91 48.26L524.91 48.26Z" fill="#0000ff"/>
<line x1="459.65" y1="41.30" x2="459.65" y2="35.57" stroke="#333" stroke-width="0.6"/>
<line x1="458.45" y1="35.57" x2="460.85" y2="35.57" stroke="#333" stroke-width="0.6"/>
<line x1="458.45" y1="41.30" x2="460.85" y2="41.30" stroke="#333" stroke-width="0.6"/>
<line x1="527.91" y1="45.03" x2="527.91" y2="39.30" stroke="#333" stroke-width="0.6"/>
<line x1="526.71" y1="39.30" x2="529.11" y2="39.30" stroke="#333" stroke-width="0.6"/>
<line x1="526.71" y1="45.03" x2="529.11" y2="45.03" stroke="#333" stroke-width="0.6"/>
<path d="M436.90 92.30L459.65 38.44L482.40 44.17L505.16 40.16L527.91 42.16" fill="none" stroke="#0a870a" stroke-width="1.1"/>
<rect x="434.40" y="89.80" width="5.00" height="5.00" fill="#0a870a"/>
<rect x="457.15" y="35.94" width="5.00" height="5.00" fill="#0a870a"/>
<rect x="479.90" y="41.67" width="5.00" height="5.00" fill="#0a870a"/>
<rect x="502.66" y="37.66" width="5.00" height="5.00" fill="#0a870a"/>
<rect x="525.41" y="39.66" width="5.00" height="5.00" fill="#0a870a"/>
<line x1="482.40" y1="48.47" x2="482.40" y2="41.59" stroke="#333" stroke-width="0.6"/>
<line x1="481.20" y1="41.59" x2="483.60" y2="41.59" stroke="#333" stroke-width="0.6"/>
<line x1="481.20" y1="48.47" x2="483.60" y2="48.47" stroke="#333" stroke-width="0.6"/>
<path d="M436.90 92.30L459.65 39.30L482.40 45.03L505.16 43.59L527.91 43.02" fill="none" stroke="#ff0000" stroke-width="1.1"/>
<path d="M436.90 89.42L439.77 92.30L436.90 95.17L434.02 92.30Z" fill="#ff0000"/>
<path d="M459.65 36.42L462.53 39.30L459.65 42.17L456.78 39.30Z" fill="#ff0000"/>
<path d="M482.40 42.15L485.28 45.03L482.40 47.90L479.53 45.03Z" fill="#ff0000"/>
<path d="M505.16 40.72L508.03 43.59L505.16 46.47L502.28 43.59Z" fill="#ff0000"/>
<path d="M527.91 40.15L530.78 43.02L527.91 45.90L525.03 43.02Z" fill="#ff0000"/>
<rect x="436.50" y="13.50" width="14.70" height="43.90" fill="#fff" stroke="#8c8c8c" stroke-width="0.9"/>
<line x1="437.70" y1="16.60" x2="445.50" y2="16.60" stroke="#202020" stroke-width="0.9"/>
<circle cx="441.60" cy="16.60" r="2.35" fill="#202020"/>
<text x="447.00" y="19.10" font-size="7" text-anchor="start" fill="#111" stroke="#111" stroke-width="0.14" font-weight="normal" >1</text>
<line x1="437.70" y1="24.00" x2="445.50" y2="24.00" stroke="#0000ff" stroke-width="0.9"/>
<path d="M441.60 21.30L444.42 26.23L438.78 26.23Z" fill="#0000ff"/>
<text x="447.00" y="26.50" font-size="7" text-anchor="start" fill="#111" stroke="#111" stroke-width="0.14" font-weight="normal" >2</text>
<line x1="437.70" y1="31.40" x2="445.50" y2="31.40" stroke="#0a870a" stroke-width="0.9"/>
<rect x="439.25" y="29.05" width="4.70" height="4.70" fill="#0a870a"/>
<text x="447.00" y="33.90" font-size="7" text-anchor="start" fill="#111" stroke="#111" stroke-width="0.14" font-weight="normal" >3</text>
<line x1="437.70" y1="38.80" x2="445.50" y2="38.80" stroke="#ff0000" stroke-width="0.9"/>
<path d="M441.60 36.10L444.30 38.80L441.60 41.50L438.90 38.80Z" fill="#ff0000"/>
<text x="447.00" y="41.30" font-size="7" text-anchor="start" fill="#111" stroke="#111" stroke-width="0.14" font-weight="normal" >4</text>
<line x1="437.70" y1="46.20" x2="445.50" y2="46.20" stroke="#4aafce" stroke-width="0.9"/>
<circle cx="441.60" cy="46.20" r="2.35" fill="#4aafce"/>
<text x="447.00" y="48.70" font-size="7" text-anchor="start" fill="#111" stroke="#111" stroke-width="0.14" font-weight="normal" >5</text>
<line x1="437.70" y1="53.60" x2="445.50" y2="53.60" stroke="#505050" stroke-width="0.9"/>
<path d="M441.60 50.90L444.42 55.83L438.78 55.83Z" fill="#505050"/>
<text x="447.00" y="56.10" font-size="7" text-anchor="start" fill="#111" stroke="#111" stroke-width="0.14" font-weight="normal" >6</text>
<text x="481.90" y="22.30" font-size="7" text-anchor="start" fill="#111" stroke="#111" stroke-width="0.14" font-weight="normal" >Citrate</text>
<text x="410.50" y="10.00" font-size="14.5" text-anchor="start" fill="#000" stroke="#000" stroke-width="0" font-weight="bold" >d</text>
<rect x="571.40" y="13.50" width="95.10" height="78.50" fill="none" stroke="#8c8c8c" stroke-width="0.9"/>
<line x1="569.20" y1="92.00" x2="571.40" y2="92.00" stroke="#555" stroke-width="0.7"/>
<text x="567.40" y="94.40" font-size="7" text-anchor="end" fill="#111" stroke="#111" stroke-width="0.14" font-weight="normal" >0.0</text>
<line x1="569.20" y1="69.50" x2="571.40" y2="69.50" stroke="#555" stroke-width="0.7"/>
<text x="567.40" y="71.90" font-size="7" text-anchor="end" fill="#111" stroke="#111" stroke-width="0.14" font-weight="normal" >0.1</text>
<line x1="569.20" y1="47.00" x2="571.40" y2="47.00" stroke="#555" stroke-width="0.7"/>
<text x="567.40" y="49.40" font-size="7" text-anchor="end" fill="#111" stroke="#111" stroke-width="0.14" font-weight="normal" >0.2</text>
<line x1="569.20" y1="24.50" x2="571.40" y2="24.50" stroke="#555" stroke-width="0.7"/>
<text x="567.40" y="26.90" font-size="7" text-anchor="end" fill="#111" stroke="#111" stroke-width="0.14" font-weight="normal" >0.3</text>
<text x="571.90" y="101.20" font-size="7" text-anchor="middle" fill="#111" stroke="#111" stroke-width="0.14" font-weight="normal" >0</text>
<line x1="594.82" y1="92.00" x2="594.82" y2="94.00" stroke="#555" stroke-width="0.7"/>
<text x="594.82" y="101.20" font-size="7" text-anchor="middle" fill="#111" stroke="#111" stroke-width="0.14" font-weight="normal" >12</text>
<line x1="617.74" y1="92.00" x2="617.74" y2="94.00" stroke="#555" stroke-width="0.7"/>
<text x="617.74" y="101.20" font-size="7" text-anchor="middle" fill="#111" stroke="#111" stroke-width="0.14" font-weight="normal" >24</text>
<line x1="640.66" y1="92.00" x2="640.66" y2="94.00" stroke="#555" stroke-width="0.7"/>
<text x="640.66" y="101.20" font-size="7" text-anchor="middle" fill="#111" stroke="#111" stroke-width="0.14" font-weight="normal" >36</text>
<line x1="663.58" y1="92.00" x2="663.58" y2="94.00" stroke="#555" stroke-width="0.7"/>
<text x="663.58" y="101.20" font-size="7" text-anchor="middle" fill="#111" stroke="#111" stroke-width="0.14" font-weight="normal" >48</text>
<text x="618.50" y="111.90" font-size="7" text-anchor="middle" fill="#111" stroke="#111" stroke-width="0.14" font-weight="normal" >Hour</text>
<text x="0" y="0" font-size="7" text-anchor="middle" fill="#111" stroke="#111" stroke-width="0.140" transform="translate(554.20,52.60) rotate(-90)">Fraction</text>
<path d="M571.90 92.00L594.82 54.88L617.74 56.00L640.66 52.62L663.58 54.88" fill="none" stroke="#202020" stroke-width="1.1"/>
<circle cx="571.90" cy="92.00" r="2.50" fill="#202020"/>
<circle cx="594.82" cy="54.88" r="2.50" fill="#202020"/>
<circle cx="617.74" cy="56.00" r="2.50" fill="#202020"/>
<circle cx="640.66" cy="52.62" r="2.50" fill="#202020"/>
<circle cx="663.58" cy="54.88" r="2.50" fill="#202020"/>
<path d="M571.90 92.00L594.82 53.75L617.74 52.62L640.66 54.88L663.58 53.30" fill="none" stroke="#0a870a" stroke-width="1.1"/>
<rect x="569.40" y="89.50" width="5.00" height="5.00" fill="#0a870a"/>
<rect x="592.32" y="51.25" width="5.00" height="5.00" fill="#0a870a"/>
<rect x="615.24" y="50.12" width="5.00" height="5.00" fill="#0a870a"/>
<rect x="638.16" y="52.38" width="5.00" height="5.00" fill="#0a870a"/>
<rect x="661.08" y="50.80" width="5.00" height="5.00" fill="#0a870a"/>
<path d="M571.90 92.00L594.82 41.38L617.74 47.67L640.66 45.20L663.58 48.57" fill="none" stroke="#0000ff" stroke-width="1.1"/>
<path d="M571.90 89.12L574.90 94.38L568.90 94.38Z" fill="#0000ff"/>
<path d="M594.82 38.50L597.82 43.75L591.82 43.75Z" fill="#0000ff"/>
<path d="M617.74 44.80L620.74 50.05L614.74 50.05Z" fill="#0000ff"/>
<path d="M640.66 42.33L643.66 47.58L637.66 47.58Z" fill="#0000ff"/>
<path d="M663.58 45.70L666.58 50.95L660.58 50.95Z" fill="#0000ff"/>
<line x1="594.82" y1="44.07" x2="594.82" y2="37.32" stroke="#333" stroke-width="0.6"/>
<line x1="593.62" y1="37.32" x2="596.02" y2="37.32" stroke="#333" stroke-width="0.6"/>
<line x1="593.62" y1="44.07" x2="596.02" y2="44.07" stroke="#333" stroke-width="0.6"/>
<line x1="617.74" y1="48.58" x2="617.74" y2="23.83" stroke="#333" stroke-width="0.6"/>
<line x1="616.54" y1="23.83" x2="618.94" y2="23.83" stroke="#333" stroke-width="0.6"/>
<line x1="616.54" y1="48.58" x2="618.94" y2="48.58" stroke="#333" stroke-width="0.6"/>
<line x1="640.66" y1="57.12" x2="640.66" y2="32.38" stroke="#333" stroke-width="0.6"/>
<line x1="639.46" y1="32.38" x2="641.86" y2="32.38" stroke="#333" stroke-width="0.6"/>
<line x1="639.46" y1="57.12" x2="641.86" y2="57.12" stroke="#333" stroke-width="0.6"/>
<line x1="663.58" y1="48.80" x2="663.58" y2="28.55" stroke="#333" stroke-width="0.6"/>
<line x1="662.38" y1="28.55" x2="664.78" y2="28.55" stroke="#333" stroke-width="0.6"/>
<line x1="662.38" y1="48.80" x2="664.78" y2="48.80" stroke="#333" stroke-width="0.6"/>
<path d="M571.90 92.00L594.82 40.70L617.74 36.20L640.66 44.75L663.58 38.68" fill="none" stroke="#ff0000" stroke-width="1.1"/>
<path d="M571.90 89.12L574.77 92.00L571.90 94.88L569.02 92.00Z" fill="#ff0000"/>
<path d="M594.82 37.82L597.69 40.70L594.82 43.57L591.94 40.70Z" fill="#ff0000"/>
<path d="M617.74 33.33L620.62 36.20L617.74 39.08L614.87 36.20Z" fill="#ff0000"/>
<path d="M640.66 41.88L643.53 44.75L640.66 47.62L637.78 44.75Z" fill="#ff0000"/>
<path d="M663.58 35.80L666.45 38.68L663.58 41.55L660.70 38.68Z" fill="#ff0000"/>
<rect x="571.40" y="13.50" width="15.00" height="28.90" fill="#fff" stroke="#8c8c8c" stroke-width="0.9"/>
<line x1="573.20" y1="16.70" x2="581.00" y2="16.70" stroke="#202020" stroke-width="0.9"/>
<circle cx="577.10" cy="16.70" r="2.35" fill="#202020"/>
<text x="582.90" y="19.20" font-size="7" text-anchor="start" fill="#111" stroke="#111" stroke-width="0.14" font-weight="normal" >1</text>
<line x1="573.20" y1="24.20" x2="581.00" y2="24.20" stroke="#0000ff" stroke-width="0.9"/>
<path d="M577.10 21.50L579.92 26.43L574.28 26.43Z" fill="#0000ff"/>
<text x="582.90" y="26.70" font-size="7" text-anchor="start" fill="#111" stroke="#111" stroke-width="0.14" font-weight="normal" >2</text>
<line x1="573.20" y1="31.80" x2="581.00" y2="31.80" stroke="#0a870a" stroke-width="0.9"/>
<rect x="574.75" y="29.45" width="4.70" height="4.70" fill="#0a870a"/>
<text x="582.90" y="34.30" font-size="7" text-anchor="start" fill="#111" stroke="#111" stroke-width="0.14" font-weight="normal" >3</text>
<line x1="573.20" y1="39.30" x2="581.00" y2="39.30" stroke="#ff0000" stroke-width="0.9"/>
<path d="M577.10 36.60L579.80 39.30L577.10 42.00L574.40 39.30Z" fill="#ff0000"/>
<text x="582.90" y="41.80" font-size="7" text-anchor="start" fill="#111" stroke="#111" stroke-width="0.14" font-weight="normal" >4</text>
<text x="604.30" y="21.20" font-size="7" text-anchor="start" fill="#111" stroke="#111" stroke-width="0.14" font-weight="normal" >Succinate</text>
<text x="548.00" y="10.00" font-size="14.5" text-anchor="start" fill="#000" stroke="#000" stroke-width="0" font-weight="bold" >e</text>
<rect x="24.50" y="139.60" width="96.50" height="78.60" fill="none" stroke="#8c8c8c" stroke-width="0.9"/>
<line x1="22.30" y1="218.20" x2="24.50" y2="218.20" stroke="#555" stroke-width="0.7"/>
<text x="20.50" y="220.60" font-size="7" text-anchor="end" fill="#111" stroke="#111" stroke-width="0.14" font-weight="normal" >0.0</text>
<line x1="22.30" y1="192.10" x2="24.50" y2="192.10" stroke="#555" stroke-width="0.7"/>
<text x="20.50" y="194.50" font-size="7" text-anchor="end" fill="#111" stroke="#111" stroke-width="0.14" font-weight="normal" >0.1</text>
<line x1="22.30" y1="166.00" x2="24.50" y2="166.00" stroke="#555" stroke-width="0.7"/>
<text x="20.50" y="168.40" font-size="7" text-anchor="end" fill="#111" stroke="#111" stroke-width="0.14" font-weight="normal" >0.2</text>
<line x1="22.30" y1="139.90" x2="24.50" y2="139.90" stroke="#555" stroke-width="0.7"/>
<text x="20.50" y="142.30" font-size="7" text-anchor="end" fill="#111" stroke="#111" stroke-width="0.14" font-weight="normal" >0.3</text>
<text x="25.20" y="227.90" font-size="7" text-anchor="middle" fill="#111" stroke="#111" stroke-width="0.14" font-weight="normal" >0</text>
<line x1="48.05" y1="218.20" x2="48.05" y2="220.20" stroke="#555" stroke-width="0.7"/>
<text x="48.05" y="227.90" font-size="7" text-anchor="middle" fill="#111" stroke="#111" stroke-width="0.14" font-weight="normal" >12</text>
<line x1="70.90" y1="218.20" x2="70.90" y2="220.20" stroke="#555" stroke-width="0.7"/>
<text x="70.90" y="227.90" font-size="7" text-anchor="middle" fill="#111" stroke="#111" stroke-width="0.14" font-weight="normal" >24</text>
<line x1="93.74" y1="218.20" x2="93.74" y2="220.20" stroke="#555" stroke-width="0.7"/>
<text x="93.74" y="227.90" font-size="7" text-anchor="middle" fill="#111" stroke="#111" stroke-width="0.14" font-weight="normal" >36</text>
<line x1="116.59" y1="218.20" x2="116.59" y2="220.20" stroke="#555" stroke-width="0.7"/>
<text x="116.59" y="227.90" font-size="7" text-anchor="middle" fill="#111" stroke="#111" stroke-width="0.14" font-weight="normal" >48</text>
<text x="72.50" y="237.10" font-size="7" text-anchor="middle" fill="#111" stroke="#111" stroke-width="0.14" font-weight="normal" >Hour</text>
<text x="0" y="0" font-size="7" text-anchor="middle" fill="#111" stroke="#111" stroke-width="0.140" transform="translate(6.00,178.50) rotate(-90)">Fraction</text>
<line x1="70.90" y1="174.35" x2="70.90" y2="169.13" stroke="#333" stroke-width="0.6"/>
<line x1="69.70" y1="169.13" x2="72.10" y2="169.13" stroke="#333" stroke-width="0.6"/>
<line x1="69.70" y1="174.35" x2="72.10" y2="174.35" stroke="#333" stroke-width="0.6"/>
<line x1="116.59" y1="173.31" x2="116.59" y2="169.13" stroke="#333" stroke-width="0.6"/>
<line x1="115.39" y1="169.13" x2="117.79" y2="169.13" stroke="#333" stroke-width="0.6"/>
<line x1="115.39" y1="173.31" x2="117.79" y2="173.31" stroke="#333" stroke-width="0.6"/>
<path d="M25.20 218.20L48.05 171.22L70.90 171.74L93.74 170.70L116.59 171.22" fill="none" stroke="#202020" stroke-width="1.1"/>
<circle cx="25.20" cy="218.20" r="2.50" fill="#202020"/>
<circle cx="48.05" cy="171.22" r="2.50" fill="#202020"/>
<circle cx="70.90" cy="171.74" r="2.50" fill="#202020"/>
<circle cx="93.74" cy="170.70" r="2.50" fill="#202020"/>
<circle cx="116.59" cy="171.22" r="2.50" fill="#202020"/>
<line x1="48.05" y1="162.87" x2="48.05" y2="157.65" stroke="#333" stroke-width="0.6"/>
<line x1="46.85" y1="157.65" x2="49.25" y2="157.65" stroke="#333" stroke-width="0.6"/>
<line x1="46.85" y1="162.87" x2="49.25" y2="162.87" stroke="#333" stroke-width="0.6"/>
<line x1="93.74" y1="166.78" x2="93.74" y2="161.56" stroke="#333" stroke-width="0.6"/>
<line x1="92.54" y1="161.56" x2="94.94" y2="161.56" stroke="#333" stroke-width="0.6"/>
<line x1="92.54" y1="166.78" x2="94.94" y2="166.78" stroke="#333" stroke-width="0.6"/>
<path d="M25.20 218.20L48.05 160.26L70.90 166.78L93.74 164.17L116.59 168.09" fill="none" stroke="#0000ff" stroke-width="1.1"/>
<path d="M25.20 215.32L28.20 220.57L22.20 220.57Z" fill="#0000ff"/>
<path d="M48.05 157.38L51.05 162.63L45.05 162.63Z" fill="#0000ff"/>
<path d="M70.90 163.91L73.90 169.16L67.90 169.16Z" fill="#0000ff"/>
<path d="M93.74 161.30L96.74 166.55L90.74 166.55Z" fill="#0000ff"/>
<path d="M116.59 165.21L119.59 170.46L113.59 170.46Z" fill="#0000ff"/>
<path d="M25.20 218.20L48.05 165.48L70.90 166.00L93.74 168.09L116.59 164.17" fill="none" stroke="#0a870a" stroke-width="1.1"/>
<rect x="22.70" y="215.70" width="5.00" height="5.00" fill="#0a870a"/>
<rect x="45.55" y="162.98" width="5.00" height="5.00" fill="#0a870a"/>
<rect x="68.40" y="163.50" width="5.00" height="5.00" fill="#0a870a"/>
<rect x="91.24" y="165.59" width="5.00" height="5.00" fill="#0a870a"/>
<rect x="114.09" y="161.67" width="5.00" height="5.00" fill="#0a870a"/>
<line x1="70.90" y1="171.48" x2="70.90" y2="151.64" stroke="#333" stroke-width="0.6"/>
<line x1="69.70" y1="151.64" x2="72.10" y2="151.64" stroke="#333" stroke-width="0.6"/>
<line x1="69.70" y1="171.48" x2="72.10" y2="171.48" stroke="#333" stroke-width="0.6"/>
<line x1="116.59" y1="170.96" x2="116.59" y2="153.73" stroke="#333" stroke-width="0.6"/>
<line x1="115.39" y1="153.73" x2="117.79" y2="153.73" stroke="#333" stroke-width="0.6"/>
<line x1="115.39" y1="170.96" x2="117.79" y2="170.96" stroke="#333" stroke-width="0.6"/>
<path d="M25.20 218.20L48.05 164.17L70.90 161.56L93.74 172.79L116.59 162.35" fill="none" stroke="#ff0000" stroke-width="1.1"/>
<path d="M25.20 215.32L28.07 218.20L25.20 221.07L22.32 218.20Z" fill="#ff0000"/>
<path d="M48.05 161.30L50.92 164.17L48.05 167.05L45.17 164.17Z" fill="#ff0000"/>
<path d="M70.90 158.69L73.77 161.56L70.90 164.44L68.02 161.56Z" fill="#ff0000"/>
<path d="M93.74 169.91L96.62 172.79L93.74 175.66L90.87 172.79Z" fill="#ff0000"/>
<path d="M116.59 159.47L119.47 162.35L116.59 165.22L113.72 162.35Z" fill="#ff0000"/>
<rect x="24.50" y="139.60" width="15.00" height="29.20" fill="#fff" stroke="#8c8c8c" stroke-width="0.9"/>
<line x1="26.20" y1="142.90" x2="34.00" y2="142.90" stroke="#202020" stroke-width="0.9"/>
<circle cx="30.10" cy="142.90" r="2.35" fill="#202020"/>
<text x="35.10" y="145.40" font-size="7" text-anchor="start" fill="#111" stroke="#111" stroke-width="0.14" font-weight="normal" >1</text>
<line x1="26.20" y1="150.60" x2="34.00" y2="150.60" stroke="#0000ff" stroke-width="0.9"/>
<path d="M30.10 147.90L32.92 152.83L27.28 152.83Z" fill="#0000ff"/>
<text x="35.10" y="153.10" font-size="7" text-anchor="start" fill="#111" stroke="#111" stroke-width="0.14" font-weight="normal" >2</text>
<line x1="26.20" y1="158.10" x2="34.00" y2="158.10" stroke="#0a870a" stroke-width="0.9"/>
<rect x="27.75" y="155.75" width="4.70" height="4.70" fill="#0a870a"/>
<text x="35.10" y="160.60" font-size="7" text-anchor="start" fill="#111" stroke="#111" stroke-width="0.14" font-weight="normal" >3</text>
<line x1="26.20" y1="165.60" x2="34.00" y2="165.60" stroke="#ff0000" stroke-width="0.9"/>
<path d="M30.10 162.90L32.80 165.60L30.10 168.30L27.40 165.60Z" fill="#ff0000"/>
<text x="35.10" y="168.10" font-size="7" text-anchor="start" fill="#111" stroke="#111" stroke-width="0.14" font-weight="normal" >4</text>
<text x="63.00" y="148.80" font-size="7" text-anchor="start" fill="#111" stroke="#111" stroke-width="0.14" font-weight="normal" >Malate</text>
<text x="0.20" y="136.80" font-size="14.5" text-anchor="start" fill="#000" stroke="#000" stroke-width="0" font-weight="bold" >f</text>
<rect x="162.20" y="139.60" width="95.80" height="78.60" fill="none" stroke="#8c8c8c" stroke-width="0.9"/>
<line x1="160.00" y1="218.20" x2="162.20" y2="218.20" stroke="#555" stroke-width="0.7"/>
<text x="158.20" y="220.60" font-size="7" text-anchor="end" fill="#111" stroke="#111" stroke-width="0.14" font-weight="normal" >0.0</text>
<line x1="160.00" y1="191.90" x2="162.20" y2="191.90" stroke="#555" stroke-width="0.7"/>
<text x="158.20" y="194.30" font-size="7" text-anchor="end" fill="#111" stroke="#111" stroke-width="0.14" font-weight="normal" >0.1</text>
<line x1="160.00" y1="165.60" x2="162.20" y2="165.60" stroke="#555" stroke-width="0.7"/>
<text x="158.20" y="168.00" font-size="7" text-anchor="end" fill="#111" stroke="#111" stroke-width="0.14" font-weight="normal" >0.2</text>
<line x1="160.00" y1="139.30" x2="162.20" y2="139.30" stroke="#555" stroke-width="0.7"/>
<text x="158.20" y="141.70" font-size="7" text-anchor="end" fill="#111" stroke="#111" stroke-width="0.14" font-weight="normal" >0.3</text>
<text x="162.90" y="227.90" font-size="7" text-anchor="middle" fill="#111" stroke="#111" stroke-width="0.14" font-weight="normal" >0</text>
<line x1="185.85" y1="218.20" x2="185.85" y2="220.20" stroke="#555" stroke-width="0.7"/>
<text x="185.85" y="227.90" font-size="7" text-anchor="middle" fill="#111" stroke="#111" stroke-width="0.14" font-weight="normal" >12</text>
<line x1="208.80" y1="218.20" x2="208.80" y2="220.20" stroke="#555" stroke-width="0.7"/>
<text x="208.80" y="227.90" font-size="7" text-anchor="middle" fill="#111" stroke="#111" stroke-width="0.14" font-weight="normal" >24</text>
<line x1="231.75" y1="218.20" x2="231.75" y2="220.20" stroke="#555" stroke-width="0.7"/>
<text x="231.75" y="227.90" font-size="7" text-anchor="middle" fill="#111" stroke="#111" stroke-width="0.14" font-weight="normal" >36</text>
<line x1="254.70" y1="218.20" x2="254.70" y2="220.20" stroke="#555" stroke-width="0.7"/>
<text x="254.70" y="227.90" font-size="7" text-anchor="middle" fill="#111" stroke="#111" stroke-width="0.14" font-weight="normal" >48</text>
<text x="209.50" y="237.10" font-size="7" text-anchor="middle" fill="#111" stroke="#111" stroke-width="0.14" font-weight="normal" >Hour</text>
<text x="0" y="0" font-size="7" text-anchor="middle" fill="#111" stroke="#111" stroke-width="0.140" transform="translate(142.40,178.00) rotate(-90)">Fraction</text>
<path d="M162.90 218.20L185.85 218.20L208.80 218.20L231.75 208.47L254.70 218.20" fill="none" stroke="#202020" stroke-width="1.1"/>
<circle cx="162.90" cy="218.20" r="2.50" fill="#202020"/>
<circle cx="185.85" cy="218.20" r="2.50" fill="#202020"/>
<circle cx="208.80" cy="218.20" r="2.50" fill="#202020"/>
<circle cx="231.75" cy="208.47" r="2.50" fill="#202020"/>
<circle cx="254.70" cy="218.20" r="2.50" fill="#202020"/>
<path d="M162.90 218.20L185.85 215.04L208.80 213.73L231.75 210.05L254.70 214.25" fill="none" stroke="#0000ff" stroke-width="1.1"/>
<path d="M162.90 215.32L165.90 220.57L159.90 220.57Z" fill="#0000ff"/>
<path d="M185.85 212.17L188.85 217.42L182.85 217.42Z" fill="#0000ff"/>
<path d="M208.80 210.85L211.80 216.10L205.80 216.10Z" fill="#0000ff"/>
<path d="M231.75 207.17L234.75 212.42L228.75 212.42Z" fill="#0000ff"/>
<path d="M254.70 211.38L257.70 216.63L251.70 216.63Z" fill="#0000ff"/>
<line x1="185.85" y1="210.57" x2="185.85" y2="206.36" stroke="#333" stroke-width="0.6"/>
<line x1="184.65" y1="206.36" x2="187.05" y2="206.36" stroke="#333" stroke-width="0.6"/>
<line x1="184.65" y1="210.57" x2="187.05" y2="210.57" stroke="#333" stroke-width="0.6"/>
<line x1="231.75" y1="206.36" x2="231.75" y2="201.10" stroke="#333" stroke-width="0.6"/>
<line x1="230.55" y1="201.10" x2="232.95" y2="201.10" stroke="#333" stroke-width="0.6"/>
<line x1="230.55" y1="206.36" x2="232.95" y2="206.36" stroke="#333" stroke-width="0.6"/>
<path d="M162.90 218.20L185.85 208.47L208.80 207.15L231.75 203.73L254.70 209.26" fill="none" stroke="#0a870a" stroke-width="1.1"/>
<rect x="160.40" y="215.70" width="5.00" height="5.00" fill="#0a870a"/>
<rect x="183.35" y="205.97" width="5.00" height="5.00" fill="#0a870a"/>
<rect x="206.30" y="204.65" width="5.00" height="5.00" fill="#0a870a"/>
<rect x="229.25" y="201.23" width="5.00" height="5.00" fill="#0a870a"/>
<rect x="252.20" y="206.76" width="5.00" height="5.00" fill="#0a870a"/>
<line x1="185.85" y1="205.05" x2="185.85" y2="198.74" stroke="#333" stroke-width="0.6"/>
<line x1="184.65" y1="198.74" x2="187.05" y2="198.74" stroke="#333" stroke-width="0.6"/>
<line x1="184.65" y1="205.05" x2="187.05" y2="205.05" stroke="#333" stroke-width="0.6"/>
<path d="M162.90 218.20L185.85 201.89L208.80 204.79L231.75 206.10L254.70 205.31" fill="none" stroke="#ff0000" stroke-width="1.1"/>
<path d="M162.90 215.32L165.78 218.20L162.90 221.07L160.03 218.20Z" fill="#ff0000"/>
<path d="M185.85 199.02L188.73 201.89L185.85 204.77L182.98 201.89Z" fill="#ff0000"/>
<path d="M208.80 201.91L211.68 204.79L208.80 207.66L205.93 204.79Z" fill="#ff0000"/>
<path d="M231.75 203.23L234.62 206.10L231.75 208.98L228.88 206.10Z" fill="#ff0000"/>
<path d="M254.70 202.44L257.58 205.31L254.70 208.19L251.83 205.31Z" fill="#ff0000"/>
<path d="M162.90 218.20L185.85 185.32L208.80 192.16L231.75 192.69L254.70 193.74" fill="none" stroke="#4aafce" stroke-width="1.1"/>
<circle cx="162.90" cy="218.20" r="2.50" fill="#4aafce"/>
<circle cx="185.85" cy="185.32" r="2.50" fill="#4aafce"/>
<circle cx="208.80" cy="192.16" r="2.50" fill="#4aafce"/>
<circle cx="231.75" cy="192.69" r="2.50" fill="#4aafce"/>
<circle cx="254.70" cy="193.74" r="2.50" fill="#4aafce"/>
<line x1="208.80" y1="190.32" x2="208.80" y2="184.01" stroke="#333" stroke-width="0.6"/>
<line x1="207.60" y1="184.01" x2="210.00" y2="184.01" stroke="#333" stroke-width="0.6"/>
<line x1="207.60" y1="190.32" x2="210.00" y2="190.32" stroke="#333" stroke-width="0.6"/>
<line x1="254.70" y1="194.00" x2="254.70" y2="186.11" stroke="#333" stroke-width="0.6"/>
<line x1="253.50" y1="186.11" x2="255.90" y2="186.11" stroke="#333" stroke-width="0.6"/>
<line x1="253.50" y1="194.00" x2="255.90" y2="194.00" stroke="#333" stroke-width="0.6"/>
<path d="M162.90 218.20L185.85 178.22L208.80 187.17L231.75 186.11L254.70 190.06" fill="none" stroke="#7a0000" stroke-width="1.1"/>
<rect x="160.40" y="215.70" width="5.00" height="5.00" fill="#7a0000"/>
<rect x="183.35" y="175.72" width="5.00" height="5.00" fill="#7a0000"/>
<rect x="206.30" y="184.67" width="5.00" height="5.00" fill="#7a0000"/>
<rect x="229.25" y="183.61" width="5.00" height="5.00" fill="#7a0000"/>
<rect x="252.20" y="187.56" width="5.00" height="5.00" fill="#7a0000"/>
<line x1="208.80" y1="180.06" x2="208.80" y2="166.91" stroke="#333" stroke-width="0.6"/>
<line x1="207.60" y1="166.91" x2="210.00" y2="166.91" stroke="#333" stroke-width="0.6"/>
<line x1="207.60" y1="180.06" x2="210.00" y2="180.06" stroke="#333" stroke-width="0.6"/>
<path d="M162.90 218.20L185.85 166.91L208.80 173.49L231.75 176.65L254.70 176.65" fill="none" stroke="#505050" stroke-width="1.1"/>
<path d="M162.90 215.32L165.90 220.57L159.90 220.57Z" fill="#505050"/>
<path d="M185.85 164.04L188.85 169.29L182.85 169.29Z" fill="#505050"/>
<path d="M208.80 170.61L211.80 175.86L205.80 175.86Z" fill="#505050"/>
<path d="M231.75 173.77L234.75 179.02L228.75 179.02Z" fill="#505050"/>
<path d="M254.70 173.77L257.70 179.02L251.70 179.02Z" fill="#505050"/>
<rect x="162.20" y="139.60" width="45.40" height="23.20" fill="#fff" stroke="#8c8c8c" stroke-width="0.9"/>
<line x1="163.30" y1="143.40" x2="171.10" y2="143.40" stroke="#202020" stroke-width="0.9"/>
<circle cx="167.20" cy="143.40" r="2.35" fill="#202020"/>
<text x="172.30" y="145.90" font-size="7" text-anchor="start" fill="#111" stroke="#111" stroke-width="0.14" font-weight="normal" >1</text>
<line x1="178.50" y1="143.40" x2="186.30" y2="143.40" stroke="#0000ff" stroke-width="0.9"/>
<path d="M182.40 140.70L185.22 145.63L179.58 145.63Z" fill="#0000ff"/>
<text x="187.50" y="145.90" font-size="7" text-anchor="start" fill="#111" stroke="#111" stroke-width="0.14" font-weight="normal" >2</text>
<line x1="193.50" y1="143.40" x2="201.30" y2="143.40" stroke="#0a870a" stroke-width="0.9"/>
<rect x="195.05" y="141.05" width="4.70" height="4.70" fill="#0a870a"/>
<text x="202.20" y="145.90" font-size="7" text-anchor="start" fill="#111" stroke="#111" stroke-width="0.14" font-weight="normal" >3</text>
<line x1="163.30" y1="151.00" x2="171.10" y2="151.00" stroke="#ff0000" stroke-width="0.9"/>
<path d="M167.20 148.30L169.90 151.00L167.20 153.70L164.50 151.00Z" fill="#ff0000"/>
<text x="172.30" y="153.50" font-size="7" text-anchor="start" fill="#111" stroke="#111" stroke-width="0.14" font-weight="normal" >4</text>
<line x1="178.50" y1="151.00" x2="186.30" y2="151.00" stroke="#4aafce" stroke-width="0.9"/>
<circle cx="182.40" cy="151.00" r="2.35" fill="#4aafce"/>
<text x="187.50" y="153.50" font-size="7" text-anchor="start" fill="#111" stroke="#111" stroke-width="0.14" font-weight="normal" >5</text>
<line x1="193.50" y1="151.00" x2="201.30" y2="151.00" stroke="#505050" stroke-width="0.9"/>
<path d="M197.40 148.30L200.22 153.23L194.58 153.23Z" fill="#505050"/>
<text x="202.20" y="153.50" font-size="7" text-anchor="start" fill="#111" stroke="#111" stroke-width="0.14" font-weight="normal" >6</text>
<line x1="163.30" y1="158.70" x2="171.10" y2="158.70" stroke="#7a0000" stroke-width="0.9"/>
<rect x="164.85" y="156.35" width="4.70" height="4.70" fill="#7a0000"/>
<text x="172.30" y="161.20" font-size="7" text-anchor="start" fill="#111" stroke="#111" stroke-width="0.14" font-weight="normal" >7</text>
<text x="211.70" y="150.00" font-size="7" text-anchor="start" fill="#111" stroke="#111" stroke-width="0.14" font-weight="normal" >UTP</text>
<text x="137.00" y="137.50" font-size="14.5" text-anchor="start" fill="#000" stroke="#000" stroke-width="0" font-weight="bold" >g</text>
<rect x="298.30" y="139.60" width="95.50" height="78.60" fill="none" stroke="#8c8c8c" stroke-width="0.9"/>
<line x1="296.10" y1="218.20" x2="298.30" y2="218.20" stroke="#555" stroke-width="0.7"/>
<text x="294.30" y="220.60" font-size="7" text-anchor="end" fill="#111" stroke="#111" stroke-width="0.14" font-weight="normal" >0.0</text>
<line x1="296.10" y1="183.35" x2="298.30" y2="183.35" stroke="#555" stroke-width="0.7"/>
<text x="294.30" y="185.75" font-size="7" text-anchor="end" fill="#111" stroke="#111" stroke-width="0.14" font-weight="normal" >0.1</text>
<line x1="296.10" y1="148.50" x2="298.30" y2="148.50" stroke="#555" stroke-width="0.7"/>
<text x="294.30" y="150.90" font-size="7" text-anchor="end" fill="#111" stroke="#111" stroke-width="0.14" font-weight="normal" >0.2</text>
<text x="298.50" y="227.90" font-size="7" text-anchor="middle" fill="#111" stroke="#111" stroke-width="0.14" font-weight="normal" >0</text>
<line x1="321.42" y1="218.20" x2="321.42" y2="220.20" stroke="#555" stroke-width="0.7"/>
<text x="321.42" y="227.90" font-size="7" text-anchor="middle" fill="#111" stroke="#111" stroke-width="0.14" font-weight="normal" >12</text>
<line x1="344.34" y1="218.20" x2="344.34" y2="220.20" stroke="#555" stroke-width="0.7"/>
<text x="344.34" y="227.90" font-size="7" text-anchor="middle" fill="#111" stroke="#111" stroke-width="0.14" font-weight="normal" >24</text>
<line x1="367.26" y1="218.20" x2="367.26" y2="220.20" stroke="#555" stroke-width="0.7"/>
<text x="367.26" y="227.90" font-size="7" text-anchor="middle" fill="#111" stroke="#111" stroke-width="0.14" font-weight="normal" >36</text>
<line x1="390.18" y1="218.20" x2="390.18" y2="220.20" stroke="#555" stroke-width="0.7"/>
<text x="390.18" y="227.90" font-size="7" text-anchor="middle" fill="#111" stroke="#111" stroke-width="0.14" font-weight="normal" >48</text>
<text x="345.50" y="237.10" font-size="7" text-anchor="middle" fill="#111" stroke="#111" stroke-width="0.14" font-weight="normal" >Hour</text>
<text x="0" y="0" font-size="7" text-anchor="middle" fill="#111" stroke="#111" stroke-width="0.140" transform="translate(278.20,178.30) rotate(-90)">Fraction</text>
<line x1="390.18" y1="211.58" x2="390.18" y2="206.00" stroke="#333" stroke-width="0.6"/>
<line x1="388.98" y1="206.00" x2="391.38" y2="206.00" stroke="#333" stroke-width="0.6"/>
<line x1="388.98" y1="211.58" x2="391.38" y2="211.58" stroke="#333" stroke-width="0.6"/>
<path d="M298.50 218.20L321.42 212.97L344.34 211.93L367.26 215.76L390.18 208.79" fill="none" stroke="#202020" stroke-width="1.1"/>
<circle cx="298.50" cy="218.20" r="2.50" fill="#202020"/>
<circle cx="321.42" cy="212.97" r="2.50" fill="#202020"/>
<circle cx="344.34" cy="211.93" r="2.50" fill="#202020"/>
<circle cx="367.26" cy="215.76" r="2.50" fill="#202020"/>
<circle cx="390.18" cy="208.79" r="2.50" fill="#202020"/>
<path d="M298.50 218.20L321.42 212.97L344.34 211.23L367.26 213.32L390.18 205.65" fill="none" stroke="#7a0000" stroke-width="1.1"/>
<rect x="296.00" y="215.70" width="5.00" height="5.00" fill="#7a0000"/>
<rect x="318.92" y="210.47" width="5.00" height="5.00" fill="#7a0000"/>
<rect x="341.84" y="208.73" width="5.00" height="5.00" fill="#7a0000"/>
<rect x="364.76" y="210.82" width="5.00" height="5.00" fill="#7a0000"/>
<rect x="387.68" y="203.15" width="5.00" height="5.00" fill="#7a0000"/>
<path d="M298.50 218.20L321.42 204.26L344.34 199.73L367.26 201.82L390.18 196.59" fill="none" stroke="#0000ff" stroke-width="1.1"/>
<path d="M298.50 215.32L301.50 220.57L295.50 220.57Z" fill="#0000ff"/>
<path d="M321.42 201.38L324.42 206.63L318.42 206.63Z" fill="#0000ff"/>
<path d="M344.34 196.85L347.34 202.10L341.34 202.10Z" fill="#0000ff"/>
<path d="M367.26 198.95L370.26 204.20L364.26 204.20Z" fill="#0000ff"/>
<path d="M390.18 193.72L393.18 198.97L387.18 198.97Z" fill="#0000ff"/>
<path d="M298.50 218.20L321.42 199.73L344.34 192.41L367.26 194.50L390.18 189.62" fill="none" stroke="#0a870a" stroke-width="1.1"/>
<rect x="296.00" y="215.70" width="5.00" height="5.00" fill="#0a870a"/>
<rect x="318.92" y="197.23" width="5.00" height="5.00" fill="#0a870a"/>
<rect x="341.84" y="189.91" width="5.00" height="5.00" fill="#0a870a"/>
<rect x="364.76" y="192.00" width="5.00" height="5.00" fill="#0a870a"/>
<rect x="387.68" y="187.12" width="5.00" height="5.00" fill="#0a870a"/>
<path d="M298.50 218.20L321.42 200.77L344.34 192.76L367.26 196.59L390.18 188.58" fill="none" stroke="#ff0000" stroke-width="1.1"/>
<path d="M298.50 215.32L301.38 218.20L298.50 221.07L295.62 218.20Z" fill="#ff0000"/>
<path d="M321.42 197.90L324.30 200.77L321.42 203.65L318.55 200.77Z" fill="#ff0000"/>
<path d="M344.34 189.88L347.21 192.76L344.34 195.63L341.46 192.76Z" fill="#ff0000"/>
<path d="M367.26 193.72L370.13 196.59L367.26 199.47L364.38 196.59Z" fill="#ff0000"/>
<path d="M390.18 185.70L393.06 188.58L390.18 191.45L387.31 188.58Z" fill="#ff0000"/>
<line x1="344.34" y1="180.56" x2="344.34" y2="174.99" stroke="#333" stroke-width="0.6"/>
<line x1="343.14" y1="174.99" x2="345.54" y2="174.99" stroke="#333" stroke-width="0.6"/>
<line x1="343.14" y1="180.56" x2="345.54" y2="180.56" stroke="#333" stroke-width="0.6"/>
<line x1="390.18" y1="176.03" x2="390.18" y2="170.46" stroke="#333" stroke-width="0.6"/>
<line x1="388.98" y1="170.46" x2="391.38" y2="170.46" stroke="#333" stroke-width="0.6"/>
<line x1="388.98" y1="176.03" x2="391.38" y2="176.03" stroke="#333" stroke-width="0.6"/>
<path d="M298.50 218.20L321.42 188.58L344.34 177.77L367.26 179.17L390.18 173.24" fill="none" stroke="#505050" stroke-width="1.1"/>
<path d="M298.50 215.32L301.50 220.57L295.50 220.57Z" fill="#505050"/>
<path d="M321.42 185.70L324.42 190.95L318.42 190.95Z" fill="#505050"/>
<path d="M344.34 174.90L347.34 180.15L341.34 180.15Z" fill="#505050"/>
<path d="M367.26 176.29L370.26 181.54L364.26 181.54Z" fill="#505050"/>
<path d="M390.18 170.37L393.18 175.62L387.18 175.62Z" fill="#505050"/>
<line x1="321.42" y1="185.09" x2="321.42" y2="180.21" stroke="#333" stroke-width="0.6"/>
<line x1="320.22" y1="180.21" x2="322.62" y2="180.21" stroke="#333" stroke-width="0.6"/>
<line x1="320.22" y1="185.09" x2="322.62" y2="185.09" stroke="#333" stroke-width="0.6"/>
<line x1="367.26" y1="173.94" x2="367.26" y2="168.36" stroke="#333" stroke-width="0.6"/>
<line x1="366.06" y1="168.36" x2="368.46" y2="168.36" stroke="#333" stroke-width="0.6"/>
<line x1="366.06" y1="173.94" x2="368.46" y2="173.94" stroke="#333" stroke-width="0.6"/>
<path d="M298.50 218.20L321.42 182.65L344.34 167.32L367.26 171.15L390.18 163.14" fill="none" stroke="#4aafce" stroke-width="1.1"/>
<circle cx="298.50" cy="218.20" r="2.50" fill="#4aafce"/>
<circle cx="321.42" cy="182.65" r="2.50" fill="#4aafce"/>
<circle cx="344.34" cy="167.32" r="2.50" fill="#4aafce"/>
<circle cx="367.26" cy="171.15" r="2.50" fill="#4aafce"/>
<circle cx="390.18" cy="163.14" r="2.50" fill="#4aafce"/>
<rect x="298.30" y="139.60" width="45.10" height="23.40" fill="#fff" stroke="#8c8c8c" stroke-width="0.9"/>
<line x1="299.00" y1="143.40" x2="306.80" y2="143.40" stroke="#202020" stroke-width="0.9"/>
<circle cx="302.90" cy="143.40" r="2.35" fill="#202020"/>
<text x="308.30" y="145.90" font-size="7" text-anchor="start" fill="#111" stroke="#111" stroke-width="0.14" font-weight="normal" >1</text>
<line x1="314.30" y1="143.40" x2="322.10" y2="143.40" stroke="#0000ff" stroke-width="0.9"/>
<path d="M318.20 140.70L321.02 145.63L315.38 145.63Z" fill="#0000ff"/>
<text x="323.60" y="145.90" font-size="7" text-anchor="start" fill="#111" stroke="#111" stroke-width="0.14" font-weight="normal" >2</text>
<line x1="329.60" y1="143.40" x2="337.40" y2="143.40" stroke="#0a870a" stroke-width="0.9"/>
<rect x="331.15" y="141.05" width="4.70" height="4.70" fill="#0a870a"/>
<text x="338.50" y="145.90" font-size="7" text-anchor="start" fill="#111" stroke="#111" stroke-width="0.14" font-weight="normal" >3</text>
<line x1="299.00" y1="151.00" x2="306.80" y2="151.00" stroke="#ff0000" stroke-width="0.9"/>
<path d="M302.90 148.30L305.60 151.00L302.90 153.70L300.20 151.00Z" fill="#ff0000"/>
<text x="308.30" y="153.50" font-size="7" text-anchor="start" fill="#111" stroke="#111" stroke-width="0.14" font-weight="normal" >4</text>
<line x1="314.30" y1="151.00" x2="322.10" y2="151.00" stroke="#4aafce" stroke-width="0.9"/>
<circle cx="318.20" cy="151.00" r="2.35" fill="#4aafce"/>
<text x="323.60" y="153.50" font-size="7" text-anchor="start" fill="#111" stroke="#111" stroke-width="0.14" font-weight="normal" >5</text>
<line x1="329.60" y1="151.00" x2="337.40" y2="151.00" stroke="#505050" stroke-width="0.9"/>
<path d="M333.50 148.30L336.32 153.23L330.68 153.23Z" fill="#505050"/>
<text x="338.50" y="153.50" font-size="7" text-anchor="start" fill="#111" stroke="#111" stroke-width="0.14" font-weight="normal" >6</text>
<line x1="299.00" y1="158.70" x2="306.80" y2="158.70" stroke="#7a0000" stroke-width="0.9"/>
<rect x="300.55" y="156.35" width="4.70" height="4.70" fill="#7a0000"/>
<text x="308.30" y="161.20" font-size="7" text-anchor="start" fill="#111" stroke="#111" stroke-width="0.14" font-weight="normal" >7</text>
<text x="348.00" y="150.00" font-size="7" text-anchor="start" fill="#111" stroke="#111" stroke-width="0.14" font-weight="normal" >ATP</text>
<text x="273.50" y="137.00" font-size="14.5" text-anchor="start" fill="#000" stroke="#000" stroke-width="0" font-weight="bold" >h</text>
<rect x="435.50" y="139.60" width="95.90" height="78.60" fill="none" stroke="#8c8c8c" stroke-width="0.9"/>
<line x1="433.30" y1="218.20" x2="435.50" y2="218.20" stroke="#555" stroke-width="0.7"/>
<text x="431.50" y="220.60" font-size="7" text-anchor="end" fill="#111" stroke="#111" stroke-width="0.14" font-weight="normal" >0.0</text>
<line x1="433.30" y1="192.03" x2="435.50" y2="192.03" stroke="#555" stroke-width="0.7"/>
<text x="431.50" y="194.43" font-size="7" text-anchor="end" fill="#111" stroke="#111" stroke-width="0.14" font-weight="normal" >0.1</text>
<line x1="433.30" y1="165.86" x2="435.50" y2="165.86" stroke="#555" stroke-width="0.7"/>
<text x="431.50" y="168.26" font-size="7" text-anchor="end" fill="#111" stroke="#111" stroke-width="0.14" font-weight="normal" >0.2</text>
<line x1="433.30" y1="139.69" x2="435.50" y2="139.69" stroke="#555" stroke-width="0.7"/>
<text x="431.50" y="142.09" font-size="7" text-anchor="end" fill="#111" stroke="#111" stroke-width="0.14" font-weight="normal" >0.3</text>
<text x="436.20" y="227.90" font-size="7" text-anchor="middle" fill="#111" stroke="#111" stroke-width="0.14" font-weight="normal" >0</text>
<line x1="459.25" y1="218.20" x2="459.25" y2="220.20" stroke="#555" stroke-width="0.7"/>
<text x="459.25" y="227.90" font-size="7" text-anchor="middle" fill="#111" stroke="#111" stroke-width="0.14" font-weight="normal" >12</text>
<line x1="482.30" y1="218.20" x2="482.30" y2="220.20" stroke="#555" stroke-width="0.7"/>
<text x="482.30" y="227.90" font-size="7" text-anchor="middle" fill="#111" stroke="#111" stroke-width="0.14" font-weight="normal" >24</text>
<line x1="505.36" y1="218.20" x2="505.36" y2="220.20" stroke="#555" stroke-width="0.7"/>
<text x="505.36" y="227.90" font-size="7" text-anchor="middle" fill="#111" stroke="#111" stroke-width="0.14" font-weight="normal" >36</text>
<line x1="528.41" y1="218.20" x2="528.41" y2="220.20" stroke="#555" stroke-width="0.7"/>
<text x="528.41" y="227.90" font-size="7" text-anchor="middle" fill="#111" stroke="#111" stroke-width="0.14" font-weight="normal" >48</text>
<text x="483.50" y="237.10" font-size="7" text-anchor="middle" fill="#111" stroke="#111" stroke-width="0.14" font-weight="normal" >Hour</text>
<text x="0" y="0" font-size="7" text-anchor="middle" fill="#111" stroke="#111" stroke-width="0.140" transform="translate(416.80,178.50) rotate(-90)">Fraction</text>
<path d="M436.20 218.20L459.25 214.01L482.30 214.80L505.36 214.01L528.41 214.27" fill="none" stroke="#202020" stroke-width="1.1"/>
<circle cx="436.20" cy="218.20" r="2.50" fill="#202020"/>
<circle cx="459.25" cy="214.01" r="2.50" fill="#202020"/>
<circle cx="482.30" cy="214.80" r="2.50" fill="#202020"/>
<circle cx="505.36" cy="214.01" r="2.50" fill="#202020"/>
<circle cx="528.41" cy="214.27" r="2.50" fill="#202020"/>
<path d="M436.20 218.20L459.25 211.66L482.30 204.33L505.36 203.28L528.41 202.50" fill="none" stroke="#505050" stroke-width="1.1"/>
<path d="M436.20 215.32L439.20 220.57L433.20 220.57Z" fill="#505050"/>
<path d="M459.25 208.78L462.25 214.03L456.25 214.03Z" fill="#505050"/>
<path d="M482.30 201.45L485.30 206.70L479.30 206.70Z" fill="#505050"/>
<path d="M505.36 200.41L508.36 205.66L502.36 205.66Z" fill="#505050"/>
<path d="M528.41 199.62L531.41 204.87L525.41 204.87Z" fill="#505050"/>
<line x1="505.36" y1="201.45" x2="505.36" y2="196.22" stroke="#333" stroke-width="0.6"/>
<line x1="504.16" y1="196.22" x2="506.56" y2="196.22" stroke="#333" stroke-width="0.6"/>
<line x1="504.16" y1="201.45" x2="506.56" y2="201.45" stroke="#333" stroke-width="0.6"/>
<path d="M436.20 218.20L459.25 211.66L482.30 200.67L505.36 198.83L528.41 197.26" fill="none" stroke="#7a0000" stroke-width="1.1"/>
<rect x="433.70" y="215.70" width="5.00" height="5.00" fill="#7a0000"/>
<rect x="456.75" y="209.16" width="5.00" height="5.00" fill="#7a0000"/>
<rect x="479.80" y="198.17" width="5.00" height="5.00" fill="#7a0000"/>
<rect x="502.86" y="196.33" width="5.00" height="5.00" fill="#7a0000"/>
<rect x="525.91" y="194.76" width="5.00" height="5.00" fill="#7a0000"/>
<line x1="528.41" y1="197.53" x2="528.41" y2="192.29" stroke="#333" stroke-width="0.6"/>
<line x1="527.21" y1="192.29" x2="529.61" y2="192.29" stroke="#333" stroke-width="0.6"/>
<line x1="527.21" y1="197.53" x2="529.61" y2="197.53" stroke="#333" stroke-width="0.6"/>
<path d="M436.20 218.20L459.25 212.18L482.30 201.45L505.36 197.79L528.41 194.91" fill="none" stroke="#ffa050" stroke-width="1.1"/>
<path d="M436.20 215.32L439.07 218.20L436.20 221.07L433.32 218.20Z" fill="#ffa050"/>
<path d="M459.25 209.31L462.13 212.18L459.25 215.06L456.38 212.18Z" fill="#ffa050"/>
<path d="M482.30 198.58L485.18 201.45L482.30 204.33L479.43 201.45Z" fill="#ffa050"/>
<path d="M505.36 194.91L508.23 197.79L505.36 200.66L502.48 197.79Z" fill="#ffa050"/>
<path d="M528.41 192.03L531.28 194.91L528.41 197.78L525.53 194.91Z" fill="#ffa050"/>
<path d="M436.20 218.20L459.25 196.48L482.30 199.10L505.36 199.10L528.41 201.19" fill="none" stroke="#0000ff" stroke-width="1.1"/>
<path d="M436.20 215.32L439.20 220.57L433.20 220.57Z" fill="#0000ff"/>
<path d="M459.25 193.60L462.25 198.85L456.25 198.85Z" fill="#0000ff"/>
<path d="M482.30 196.22L485.30 201.47L479.30 201.47Z" fill="#0000ff"/>
<path d="M505.36 196.22L508.36 201.47L502.36 201.47Z" fill="#0000ff"/>
<path d="M528.41 198.31L531.41 203.56L525.41 203.56Z" fill="#0000ff"/>
<path d="M436.20 218.20L459.25 197.79L482.30 194.91L505.36 197.00L528.41 199.10" fill="none" stroke="#0a870a" stroke-width="1.1"/>
<rect x="433.70" y="215.70" width="5.00" height="5.00" fill="#0a870a"/>
<rect x="456.75" y="195.29" width="5.00" height="5.00" fill="#0a870a"/>
<rect x="479.80" y="192.41" width="5.00" height="5.00" fill="#0a870a"/>
<rect x="502.86" y="194.50" width="5.00" height="5.00" fill="#0a870a"/>
<rect x="525.91" y="196.60" width="5.00" height="5.00" fill="#0a870a"/>
<path d="M436.20 218.20L459.25 199.10L482.30 196.22L505.36 196.48L528.41 196.48" fill="none" stroke="#ff0000" stroke-width="1.1"/>
<path d="M436.20 215.32L439.07 218.20L436.20 221.07L433.32 218.20Z" fill="#ff0000"/>
<path d="M459.25 196.22L462.13 199.10L459.25 201.97L456.38 199.10Z" fill="#ff0000"/>
<path d="M482.30 193.34L485.18 196.22L482.30 199.09L479.43 196.22Z" fill="#ff0000"/>
<path d="M505.36 193.60L508.23 196.48L505.36 199.35L502.48 196.48Z" fill="#ff0000"/>
<path d="M528.41 193.60L531.28 196.48L528.41 199.35L525.53 196.48Z" fill="#ff0000"/>
<line x1="459.25" y1="150.94" x2="459.25" y2="146.23" stroke="#333" stroke-width="0.6"/>
<line x1="458.05" y1="146.23" x2="460.45" y2="146.23" stroke="#333" stroke-width="0.6"/>
<line x1="482.30" y1="150.42" x2="482.30" y2="144.40" stroke="#333" stroke-width="0.6"/>
<line x1="481.10" y1="144.40" x2="483.50" y2="144.40" stroke="#333" stroke-width="0.6"/>
<line x1="528.41" y1="155.92" x2="528.41" y2="153.56" stroke="#333" stroke-width="0.6"/>
<line x1="527.21" y1="153.56" x2="529.61" y2="153.56" stroke="#333" stroke-width="0.6"/>
<path d="M436.20 218.20L459.25 150.94L482.30 150.42L505.36 154.87L528.41 155.92" fill="none" stroke="#4aafce" stroke-width="1.1"/>
<circle cx="436.20" cy="218.20" r="2.50" fill="#4aafce"/>
<circle cx="459.25" cy="150.94" r="2.50" fill="#4aafce"/>
<circle cx="482.30" cy="150.42" r="2.50" fill="#4aafce"/>
<circle cx="505.36" cy="154.87" r="2.50" fill="#4aafce"/>
<circle cx="528.41" cy="155.92" r="2.50" fill="#4aafce"/>
<rect x="468.50" y="158.20" width="37.70" height="31.30" fill="#fff" stroke="#8c8c8c" stroke-width="0.9"/>
<line x1="469.60" y1="161.60" x2="477.40" y2="161.60" stroke="#202020" stroke-width="0.9"/>
<circle cx="473.50" cy="161.60" r="2.35" fill="#202020"/>
<text x="479.30" y="164.10" font-size="7" text-anchor="start" fill="#111" stroke="#111" stroke-width="0.14" font-weight="normal" >1</text>
<line x1="488.60" y1="161.60" x2="496.40" y2="161.60" stroke="#0000ff" stroke-width="0.9"/>
<path d="M492.50 158.90L495.32 163.83L489.68 163.83Z" fill="#0000ff"/>
<text x="497.80" y="164.10" font-size="7" text-anchor="start" fill="#111" stroke="#111" stroke-width="0.14" font-weight="normal" >2</text>
<line x1="469.60" y1="169.20" x2="477.40" y2="169.20" stroke="#0a870a" stroke-width="0.9"/>
<rect x="471.15" y="166.85" width="4.70" height="4.70" fill="#0a870a"/>
<text x="479.30" y="171.70" font-size="7" text-anchor="start" fill="#111" stroke="#111" stroke-width="0.14" font-weight="normal" >3</text>
<line x1="488.60" y1="169.20" x2="496.40" y2="169.20" stroke="#ff0000" stroke-width="0.9"/>
<path d="M492.50 166.50L495.20 169.20L492.50 171.90L489.80 169.20Z" fill="#ff0000"/>
<text x="497.80" y="171.70" font-size="7" text-anchor="start" fill="#111" stroke="#111" stroke-width="0.14" font-weight="normal" >4</text>
<line x1="469.60" y1="177.00" x2="477.40" y2="177.00" stroke="#4aafce" stroke-width="0.9"/>
<circle cx="473.50" cy="177.00" r="2.35" fill="#4aafce"/>
<text x="479.30" y="179.50" font-size="7" text-anchor="start" fill="#111" stroke="#111" stroke-width="0.14" font-weight="normal" >5</text>
<line x1="488.60" y1="177.00" x2="496.40" y2="177.00" stroke="#505050" stroke-width="0.9"/>
<path d="M492.50 174.30L495.32 179.23L489.68 179.23Z" fill="#505050"/>
<text x="497.80" y="179.50" font-size="7" text-anchor="start" fill="#111" stroke="#111" stroke-width="0.14" font-weight="normal" >6</text>
<line x1="469.60" y1="184.80" x2="477.40" y2="184.80" stroke="#7a0000" stroke-width="0.9"/>
<rect x="471.15" y="182.45" width="4.70" height="4.70" fill="#7a0000"/>
<text x="479.30" y="187.30" font-size="7" text-anchor="start" fill="#111" stroke="#111" stroke-width="0.14" font-weight="normal" >7</text>
<line x1="488.60" y1="184.80" x2="496.40" y2="184.80" stroke="#ffa050" stroke-width="0.9"/>
<path d="M492.50 182.10L495.20 184.80L492.50 187.50L489.80 184.80Z" fill="#ffa050"/>
<text x="497.80" y="187.30" font-size="7" text-anchor="start" fill="#111" stroke="#111" stroke-width="0.14" font-weight="normal" >10</text>
<text x="489.70" y="149.10" font-size="7" text-anchor="start" fill="#111" stroke="#111" stroke-width="0.14" font-weight="normal" >NADH</text>
<text x="410.50" y="137.00" font-size="14.5" text-anchor="start" fill="#000" stroke="#000" stroke-width="0" font-weight="bold" >i</text>
<rect x="571.40" y="139.20" width="95.10" height="79.00" fill="none" stroke="#8c8c8c" stroke-width="0.9"/>
<line x1="569.20" y1="218.20" x2="571.40" y2="218.20" stroke="#555" stroke-width="0.7"/>
<text x="567.40" y="220.60" font-size="7" text-anchor="end" fill="#111" stroke="#111" stroke-width="0.14" font-weight="normal" >0.0</text>
<line x1="569.20" y1="187.60" x2="571.40" y2="187.60" stroke="#555" stroke-width="0.7"/>
<text x="567.40" y="190.00" font-size="7" text-anchor="end" fill="#111" stroke="#111" stroke-width="0.14" font-weight="normal" >0.1</text>
<line x1="569.20" y1="157.00" x2="571.40" y2="157.00" stroke="#555" stroke-width="0.7"/>
<text x="567.40" y="159.40" font-size="7" text-anchor="end" fill="#111" stroke="#111" stroke-width="0.14" font-weight="normal" >0.2</text>
<text x="572.10" y="227.90" font-size="7" text-anchor="middle" fill="#111" stroke="#111" stroke-width="0.14" font-weight="normal" >0</text>
<line x1="595.08" y1="218.20" x2="595.08" y2="220.20" stroke="#555" stroke-width="0.7"/>
<text x="595.08" y="227.90" font-size="7" text-anchor="middle" fill="#111" stroke="#111" stroke-width="0.14" font-weight="normal" >12</text>
<line x1="618.06" y1="218.20" x2="618.06" y2="220.20" stroke="#555" stroke-width="0.7"/>
<text x="618.06" y="227.90" font-size="7" text-anchor="middle" fill="#111" stroke="#111" stroke-width="0.14" font-weight="normal" >24</text>
<line x1="641.04" y1="218.20" x2="641.04" y2="220.20" stroke="#555" stroke-width="0.7"/>
<text x="641.04" y="227.90" font-size="7" text-anchor="middle" fill="#111" stroke="#111" stroke-width="0.14" font-weight="normal" >36</text>
<line x1="664.02" y1="218.20" x2="664.02" y2="220.20" stroke="#555" stroke-width="0.7"/>
<text x="664.02" y="227.90" font-size="7" text-anchor="middle" fill="#111" stroke="#111" stroke-width="0.14" font-weight="normal" >48</text>
<text x="618.50" y="237.10" font-size="7" text-anchor="middle" fill="#111" stroke="#111" stroke-width="0.14" font-weight="normal" >Hour</text>
<text x="0" y="0" font-size="7" text-anchor="middle" fill="#111" stroke="#111" stroke-width="0.140" transform="translate(552.80,178.00) rotate(-90)">Fraction</text>
<path d="M572.10 218.20L595.08 200.45L618.06 205.65L641.04 207.18L664.02 207.80" fill="none" stroke="#b4a4d6" stroke-width="1.1"/>
<circle cx="572.10" cy="218.20" r="2.50" fill="#b4a4d6"/>
<circle cx="595.08" cy="200.45" r="2.50" fill="#b4a4d6"/>
<circle cx="618.06" cy="205.65" r="2.50" fill="#b4a4d6"/>
<circle cx="641.04" cy="207.18" r="2.50" fill="#b4a4d6"/>
<circle cx="664.02" cy="207.80" r="2.50" fill="#b4a4d6"/>
<path d="M572.10 218.20L595.08 209.02L618.06 205.35L641.04 205.35L664.02 204.43" fill="none" stroke="#0000ff" stroke-width="1.1"/>
<path d="M572.10 215.32L575.10 220.57L569.10 220.57Z" fill="#0000ff"/>
<path d="M595.08 206.14L598.08 211.39L592.08 211.39Z" fill="#0000ff"/>
<path d="M618.06 202.47L621.06 207.72L615.06 207.72Z" fill="#0000ff"/>
<path d="M641.04 202.47L644.04 207.72L638.04 207.72Z" fill="#0000ff"/>
<path d="M664.02 201.55L667.02 206.80L661.02 206.80Z" fill="#0000ff"/>
<path d="M572.10 218.20L595.08 201.37L618.06 199.23L641.04 199.23L664.02 198.31" fill="none" stroke="#ff0000" stroke-width="1.1"/>
<path d="M572.10 215.32L574.98 218.20L572.10 221.07L569.23 218.20Z" fill="#ff0000"/>
<path d="M595.08 198.49L597.96 201.37L595.08 204.24L592.21 201.37Z" fill="#ff0000"/>
<path d="M618.06 196.35L620.94 199.23L618.06 202.10L615.19 199.23Z" fill="#ff0000"/>
<path d="M641.04 196.35L643.91 199.23L641.04 202.10L638.16 199.23Z" fill="#ff0000"/>
<path d="M664.02 195.44L666.89 198.31L664.02 201.19L661.14 198.31Z" fill="#ff0000"/>
<line x1="595.08" y1="201.37" x2="595.08" y2="195.25" stroke="#333" stroke-width="0.6"/>
<line x1="593.88" y1="195.25" x2="596.28" y2="195.25" stroke="#333" stroke-width="0.6"/>
<line x1="593.88" y1="201.37" x2="596.28" y2="201.37" stroke="#333" stroke-width="0.6"/>
<path d="M572.10 218.20L595.08 198.31L618.06 195.25L641.04 195.86L664.02 194.64" fill="none" stroke="#4aafce" stroke-width="1.1"/>
<circle cx="572.10" cy="218.20" r="2.50" fill="#4aafce"/>
<circle cx="595.08" cy="198.31" r="2.50" fill="#4aafce"/>
<circle cx="618.06" cy="195.25" r="2.50" fill="#4aafce"/>
<circle cx="641.04" cy="195.86" r="2.50" fill="#4aafce"/>
<circle cx="664.02" cy="194.64" r="2.50" fill="#4aafce"/>
<path d="M572.10 218.20L595.08 184.54L618.06 192.19L641.04 193.11L664.02 197.39" fill="none" stroke="#202020" stroke-width="1.1"/>
<path d="M572.10 215.32L575.10 220.57L569.10 220.57Z" fill="#202020"/>
<path d="M595.08 181.66L598.08 186.91L592.08 186.91Z" fill="#202020"/>
<path d="M618.06 189.31L621.06 194.56L615.06 194.56Z" fill="#202020"/>
<path d="M641.04 190.23L644.04 195.48L638.04 195.48Z" fill="#202020"/>
<path d="M664.02 194.52L667.02 199.77L661.02 199.77Z" fill="#202020"/>
<path d="M572.10 218.20L595.08 179.95L618.06 187.60L641.04 187.60L664.02 192.19" fill="none" stroke="#ffa050" stroke-width="1.1"/>
<path d="M572.10 215.32L574.98 218.20L572.10 221.07L569.23 218.20Z" fill="#ffa050"/>
<path d="M595.08 177.07L597.96 179.95L595.08 182.82L592.21 179.95Z" fill="#ffa050"/>
<path d="M618.06 184.72L620.94 187.60L618.06 190.47L615.19 187.60Z" fill="#ffa050"/>
<path d="M641.04 184.72L643.91 187.60L641.04 190.47L638.16 187.60Z" fill="#ffa050"/>
<path d="M664.02 189.31L666.89 192.19L664.02 195.06L661.14 192.19Z" fill="#ffa050"/>
<path d="M572.10 218.20L595.08 182.09L618.06 186.07L641.04 188.21L664.02 189.13" fill="none" stroke="#505050" stroke-width="1.1"/>
<path d="M572.10 215.32L575.10 220.57L569.10 220.57Z" fill="#505050"/>
<path d="M595.08 179.22L598.08 184.47L592.08 184.47Z" fill="#505050"/>
<path d="M618.06 183.19L621.06 188.44L615.06 188.44Z" fill="#505050"/>
<path d="M641.04 185.34L644.04 190.59L638.04 190.59Z" fill="#505050"/>
<path d="M664.02 186.25L667.02 191.50L661.02 191.50Z" fill="#505050"/>
<path d="M572.10 218.20L595.08 189.13L618.06 183.32L641.04 183.32L664.02 181.79" fill="none" stroke="#0a870a" stroke-width="1.1"/>
<rect x="569.60" y="215.70" width="5.00" height="5.00" fill="#0a870a"/>
<rect x="592.58" y="186.63" width="5.00" height="5.00" fill="#0a870a"/>
<rect x="615.56" y="180.82" width="5.00" height="5.00" fill="#0a870a"/>
<rect x="638.54" y="180.82" width="5.00" height="5.00" fill="#0a870a"/>
<rect x="661.52" y="179.29" width="5.00" height="5.00" fill="#0a870a"/>
<line x1="595.08" y1="179.95" x2="595.08" y2="173.83" stroke="#333" stroke-width="0.6"/>
<line x1="593.88" y1="173.83" x2="596.28" y2="173.83" stroke="#333" stroke-width="0.6"/>
<line x1="593.88" y1="179.95" x2="596.28" y2="179.95" stroke="#333" stroke-width="0.6"/>
<path d="M572.10 218.20L595.08 176.89L618.06 182.09L641.04 182.09L664.02 186.07" fill="none" stroke="#7a0000" stroke-width="1.1"/>
<rect x="569.60" y="215.70" width="5.00" height="5.00" fill="#7a0000"/>
<rect x="592.58" y="174.39" width="5.00" height="5.00" fill="#7a0000"/>
<rect x="615.56" y="179.59" width="5.00" height="5.00" fill="#7a0000"/>
<rect x="638.54" y="179.59" width="5.00" height="5.00" fill="#7a0000"/>
<rect x="661.52" y="183.57" width="5.00" height="5.00" fill="#7a0000"/>
<line x1="618.06" y1="185.76" x2="618.06" y2="164.34" stroke="#333" stroke-width="0.6"/>
<line x1="616.86" y1="164.34" x2="619.26" y2="164.34" stroke="#333" stroke-width="0.6"/>
<line x1="616.86" y1="185.76" x2="619.26" y2="185.76" stroke="#333" stroke-width="0.6"/>
<line x1="641.04" y1="182.40" x2="641.04" y2="160.98" stroke="#333" stroke-width="0.6"/>
<line x1="639.84" y1="160.98" x2="642.24" y2="160.98" stroke="#333" stroke-width="0.6"/>
<line x1="639.84" y1="182.40" x2="642.24" y2="182.40" stroke="#333" stroke-width="0.6"/>
<line x1="664.02" y1="179.95" x2="664.02" y2="155.47" stroke="#333" stroke-width="0.6"/>
<line x1="662.82" y1="155.47" x2="665.22" y2="155.47" stroke="#333" stroke-width="0.6"/>
<line x1="662.82" y1="179.95" x2="665.22" y2="179.95" stroke="#333" stroke-width="0.6"/>
<path d="M572.10 218.20L595.08 185.46L618.06 175.05L641.04 171.69L664.02 167.71" fill="none" stroke="#202020" stroke-width="1.1"/>
<circle cx="572.10" cy="218.20" r="2.50" fill="#202020"/>
<circle cx="595.08" cy="185.46" r="2.50" fill="#202020"/>
<circle cx="618.06" cy="175.05" r="2.50" fill="#202020"/>
<circle cx="641.04" cy="171.69" r="2.50" fill="#202020"/>
<circle cx="664.02" cy="167.71" r="2.50" fill="#202020"/>
<rect x="571.40" y="135.90" width="38.00" height="34.10" fill="#fff" stroke="#8c8c8c" stroke-width="0.9"/>
<line x1="572.10" y1="138.60" x2="579.90" y2="138.60" stroke="#202020" stroke-width="0.9"/>
<circle cx="576.00" cy="138.60" r="2.35" fill="#202020"/>
<text x="581.50" y="141.10" font-size="7" text-anchor="start" fill="#111" stroke="#111" stroke-width="0.14" font-weight="normal" >6</text>
<line x1="591.50" y1="138.60" x2="599.30" y2="138.60" stroke="#0000ff" stroke-width="0.9"/>
<path d="M595.40 135.90L598.22 140.83L592.58 140.83Z" fill="#0000ff"/>
<text x="600.50" y="141.10" font-size="7" text-anchor="start" fill="#111" stroke="#111" stroke-width="0.14" font-weight="normal" >7</text>
<line x1="572.10" y1="145.50" x2="579.90" y2="145.50" stroke="#0a870a" stroke-width="0.9"/>
<rect x="573.65" y="143.15" width="4.70" height="4.70" fill="#0a870a"/>
<text x="581.50" y="148.00" font-size="7" text-anchor="start" fill="#111" stroke="#111" stroke-width="0.14" font-weight="normal" >8</text>
<line x1="591.50" y1="145.50" x2="599.30" y2="145.50" stroke="#ff0000" stroke-width="0.9"/>
<path d="M595.40 142.80L598.10 145.50L595.40 148.20L592.70 145.50Z" fill="#ff0000"/>
<text x="600.50" y="148.00" font-size="7" text-anchor="start" fill="#111" stroke="#111" stroke-width="0.14" font-weight="normal" >9</text>
<line x1="572.10" y1="152.40" x2="579.90" y2="152.40" stroke="#4aafce" stroke-width="0.9"/>
<circle cx="576.00" cy="152.40" r="2.35" fill="#4aafce"/>
<text x="581.50" y="154.90" font-size="7" text-anchor="start" fill="#111" stroke="#111" stroke-width="0.14" font-weight="normal" >10</text>
<line x1="591.50" y1="152.40" x2="599.30" y2="152.40" stroke="#505050" stroke-width="0.9"/>
<path d="M595.40 149.70L598.22 154.63L592.58 154.63Z" fill="#505050"/>
<text x="600.50" y="154.90" font-size="7" text-anchor="start" fill="#111" stroke="#111" stroke-width="0.14" font-weight="normal" >11</text>
<line x1="572.10" y1="159.40" x2="579.90" y2="159.40" stroke="#7a0000" stroke-width="0.9"/>
<rect x="573.65" y="157.05" width="4.70" height="4.70" fill="#7a0000"/>
<text x="581.50" y="161.90" font-size="7" text-anchor="start" fill="#111" stroke="#111" stroke-width="0.14" font-weight="normal" >12</text>
<line x1="591.50" y1="159.40" x2="599.30" y2="159.40" stroke="#ffa050" stroke-width="0.9"/>
<path d="M595.40 156.70L598.10 159.40L595.40 162.10L592.70 159.40Z" fill="#ffa050"/>
<text x="600.50" y="161.90" font-size="7" text-anchor="start" fill="#111" stroke="#111" stroke-width="0.14" font-weight="normal" >13</text>
<line x1="572.10" y1="166.30" x2="579.90" y2="166.30" stroke="#202020" stroke-width="0.9"/>
<path d="M576.00 163.60L578.82 168.53L573.18 168.53Z" fill="#202020"/>
<text x="581.50" y="168.80" font-size="7" text-anchor="start" fill="#111" stroke="#111" stroke-width="0.14" font-weight="normal" >14</text>
<line x1="591.50" y1="166.30" x2="599.30" y2="166.30" stroke="#b4a4d6" stroke-width="0.9"/>
<circle cx="595.40" cy="166.30" r="2.35" fill="#b4a4d6"/>
<text x="600.50" y="168.80" font-size="7" text-anchor="start" fill="#111" stroke="#111" stroke-width="0.14" font-weight="normal" >15</text>
<text x="615.70" y="148.20" font-size="7" text-anchor="start" fill="#111" stroke="#111" stroke-width="0.14" font-weight="normal" >UDPGlcNAc</text>
<text x="548.50" y="137.00" font-size="14.5" text-anchor="start" fill="#000" stroke="#000" stroke-width="0" font-weight="bold" >j</text>
</svg></body></html>
